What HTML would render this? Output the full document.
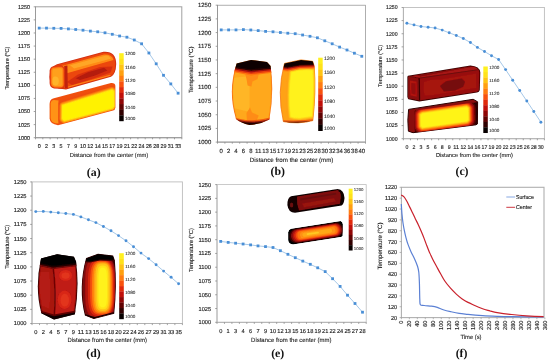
<!DOCTYPE html>
<html><head><meta charset="utf-8"><title>Figure</title>
<style>html,body{margin:0;padding:0;background:#fff}svg{display:block}</style></head>
<body>
<svg width="550" height="363" viewBox="0 0 550 363" text-rendering="geometricPrecision" font-family="'Liberation Sans', sans-serif">
<rect width="550" height="363" fill="#fff"/>
<defs><filter id="b4" x="-10%" y="-10%" width="120%" height="120%"><feGaussianBlur stdDeviation="0.4"/></filter><filter id="b5" x="-10%" y="-10%" width="120%" height="120%"><feGaussianBlur stdDeviation="0.55"/></filter><clipPath id="c1"><path d="M57 64.2L103.5 51.8Q116 50.8 116.2 64Q116 74 111 76.8L66 89.4Q50 89 49.5 77Q49.5 66.5 57 64.2Z"/></clipPath><clipPath id="c2"><path d="M53.5 66.2L60 65.4Q64.6 65.6 64.8 70L65 84Q64.8 88.6 60.5 88.8L54 88.4Q49.8 87.6 49.6 83L49.6 71Q49.8 66.8 53.5 66.2Z"/></clipPath><clipPath id="c3"><path d="M59.5 100.2L112 85.6Q115 85.4 115 88L115 107Q115 109.4 112.6 110.1L61 124Q58.2 123.6 58.2 120L58.2 103.5Q58.2 100.6 59.5 100.2Z"/></clipPath><clipPath id="c4"><path d="M236.6 63.4L251 59.9L267 62L270.6 66Q274.4 92 269.4 119.4Q260 124.4 249.4 125Q241 123.2 236 119Q227.4 91 236.6 63.4Z"/></clipPath><clipPath id="c5"><path d="M236.6 63.4L251 59.9L267 62L270.6 66Q274.4 92 269.4 119.4Q260 124.4 249.4 125Q241 123.2 236 119Q227.4 91 236.6 63.4Z"/></clipPath><clipPath id="c6"><path d="M288 67Q300 63.5 314.4 65.4Q316.2 92 312.8 120.6Q306 122.6 298 122.8Q291 122.8 287.2 121.6Q283.4 94 288 67Z"/></clipPath><clipPath id="c7"><path d="M284.5 63.4L301 59.9L312.7 61.3L314.2 66Q316.2 92 312.8 120.6Q306 122.6 298 122.8Q290 123 283.4 121.6Q276.6 92 284.5 63.4Z"/></clipPath><clipPath id="c8"><path d="M408 75.7L470.4 65.4Q479.8 66 480.3 72.4L479.8 90Q479.4 92 477 92.5L419.4 101.4L408.4 99.2Q407.4 98.4 407.4 96.6L407.4 77.4Q407.4 76 408 75.7Z"/></clipPath><clipPath id="c9"><path d="M414.6 110.6L477.4 101.9L477.4 124L476 124.8L414.6 132.4Z"/></clipPath><clipPath id="c10"><path d="M41 258.6L57.1 254.3L73.9 256.8L76 261.4Q79.6 286 74.9 314.2L54 319.5L41.4 313.2Q34.4 288 41 258.6Z"/></clipPath><clipPath id="c11"><path d="M41 258.6L57.1 254.3L73.9 256.8L76 261.4Q79.6 286 74.9 314.2L54 319.5L41.4 313.2Q34.4 288 41 258.6Z"/></clipPath><clipPath id="c12"><path d="M86.5 258.6L98 254.3L112.7 256L114.3 260.4Q116.6 286 113.7 313.2L93.8 318.4L85.4 315.2Q78.6 288 86.5 258.6Z"/></clipPath><clipPath id="c13"><path d="M86.5 258.6L98 254.3L112.7 256L114.3 260.4Q116.6 286 113.7 313.2L93.8 318.4L85.4 315.2Q78.6 288 86.5 258.6Z"/></clipPath><clipPath id="c14"><path d="M291 196.2L337.6 188.9Q344.2 189.6 344.5 198Q344 204 341.6 205.5L295 212.7Q288.2 212.6 287.4 205Q287.2 198 291 196.2Z"/></clipPath><clipPath id="c15"><path d="M291 228.7L340.6 220.9Q342.8 221.4 342.9 224.4L342.7 235.4Q342.4 236.8 341 237.1L293 244.5Q288.4 244 288.1 240L288.1 232.4Q288.4 229.4 291 228.7Z"/></clipPath></defs>
<rect x="35.50" y="6.80" width="146.30" height="130.90" fill="#fff" stroke="#a0a0a0" stroke-width="1.0"/>
<path d="M35.50 6.80V137.70H181.80" fill="none" stroke="#9a9a9a" stroke-width="1.0"/>
<text x="30.00" y="8.70" font-size="5.6" text-anchor="end" fill="#222" stroke="#222" stroke-width="0.13" textLength="12.00" lengthAdjust="spacingAndGlyphs">1250</text>
<text x="30.00" y="21.79" font-size="5.6" text-anchor="end" fill="#222" stroke="#222" stroke-width="0.13" textLength="12.00" lengthAdjust="spacingAndGlyphs">1225</text>
<text x="30.00" y="34.88" font-size="5.6" text-anchor="end" fill="#222" stroke="#222" stroke-width="0.13" textLength="12.00" lengthAdjust="spacingAndGlyphs">1200</text>
<text x="30.00" y="47.97" font-size="5.6" text-anchor="end" fill="#222" stroke="#222" stroke-width="0.13" textLength="12.00" lengthAdjust="spacingAndGlyphs">1175</text>
<text x="30.00" y="61.06" font-size="5.6" text-anchor="end" fill="#222" stroke="#222" stroke-width="0.13" textLength="12.00" lengthAdjust="spacingAndGlyphs">1150</text>
<text x="30.00" y="74.15" font-size="5.6" text-anchor="end" fill="#222" stroke="#222" stroke-width="0.13" textLength="12.00" lengthAdjust="spacingAndGlyphs">1125</text>
<text x="30.00" y="87.24" font-size="5.6" text-anchor="end" fill="#222" stroke="#222" stroke-width="0.13" textLength="12.00" lengthAdjust="spacingAndGlyphs">1100</text>
<text x="30.00" y="100.33" font-size="5.6" text-anchor="end" fill="#222" stroke="#222" stroke-width="0.13" textLength="12.00" lengthAdjust="spacingAndGlyphs">1075</text>
<text x="30.00" y="113.42" font-size="5.6" text-anchor="end" fill="#222" stroke="#222" stroke-width="0.13" textLength="12.00" lengthAdjust="spacingAndGlyphs">1050</text>
<text x="30.00" y="126.51" font-size="5.6" text-anchor="end" fill="#222" stroke="#222" stroke-width="0.13" textLength="12.00" lengthAdjust="spacingAndGlyphs">1025</text>
<text x="30.00" y="139.60" font-size="5.6" text-anchor="end" fill="#222" stroke="#222" stroke-width="0.13" textLength="12.00" lengthAdjust="spacingAndGlyphs">1000</text>
<path d="M33.70 6.80H35.50M33.70 19.89H35.50M33.70 32.98H35.50M33.70 46.07H35.50M33.70 59.16H35.50M33.70 72.25H35.50M33.70 85.34H35.50M33.70 98.43H35.50M33.70 111.52H35.50M33.70 124.61H35.50M33.70 137.70H35.50M35.50 137.70v1.6M42.81 137.70v1.6M50.13 137.70v1.6M57.45 137.70v1.6M64.76 137.70v1.6M72.08 137.70v1.6M79.39 137.70v1.6M86.71 137.70v1.6M94.02 137.70v1.6M101.34 137.70v1.6M108.65 137.70v1.6M115.97 137.70v1.6M123.28 137.70v1.6M130.59 137.70v1.6M137.91 137.70v1.6M145.23 137.70v1.6M152.54 137.70v1.6M159.86 137.70v1.6M167.17 137.70v1.6M174.49 137.70v1.6M181.80 137.70v1.6" stroke="#8c8c8c" stroke-width="0.8" fill="none"/>
<text x="39.16" y="147.90" font-size="5.6" text-anchor="middle" fill="#222" stroke="#222" stroke-width="0.13" textLength="3.00" lengthAdjust="spacingAndGlyphs">0</text>
<text x="46.47" y="147.90" font-size="5.6" text-anchor="middle" fill="#222" stroke="#222" stroke-width="0.13" textLength="3.00" lengthAdjust="spacingAndGlyphs">2</text>
<text x="53.79" y="147.90" font-size="5.6" text-anchor="middle" fill="#222" stroke="#222" stroke-width="0.13" textLength="3.00" lengthAdjust="spacingAndGlyphs">3</text>
<text x="61.10" y="147.90" font-size="5.6" text-anchor="middle" fill="#222" stroke="#222" stroke-width="0.13" textLength="3.00" lengthAdjust="spacingAndGlyphs">5</text>
<text x="68.42" y="147.90" font-size="5.6" text-anchor="middle" fill="#222" stroke="#222" stroke-width="0.13" textLength="3.00" lengthAdjust="spacingAndGlyphs">7</text>
<text x="75.73" y="147.90" font-size="5.6" text-anchor="middle" fill="#222" stroke="#222" stroke-width="0.13" textLength="3.00" lengthAdjust="spacingAndGlyphs">9</text>
<text x="83.05" y="147.90" font-size="5.6" text-anchor="middle" fill="#222" stroke="#222" stroke-width="0.13" textLength="6.00" lengthAdjust="spacingAndGlyphs">10</text>
<text x="90.36" y="147.90" font-size="5.6" text-anchor="middle" fill="#222" stroke="#222" stroke-width="0.13" textLength="6.00" lengthAdjust="spacingAndGlyphs">12</text>
<text x="97.68" y="147.90" font-size="5.6" text-anchor="middle" fill="#222" stroke="#222" stroke-width="0.13" textLength="6.00" lengthAdjust="spacingAndGlyphs">14</text>
<text x="104.99" y="147.90" font-size="5.6" text-anchor="middle" fill="#222" stroke="#222" stroke-width="0.13" textLength="6.00" lengthAdjust="spacingAndGlyphs">15</text>
<text x="112.31" y="147.90" font-size="5.6" text-anchor="middle" fill="#222" stroke="#222" stroke-width="0.13" textLength="6.00" lengthAdjust="spacingAndGlyphs">17</text>
<text x="119.62" y="147.90" font-size="5.6" text-anchor="middle" fill="#222" stroke="#222" stroke-width="0.13" textLength="6.00" lengthAdjust="spacingAndGlyphs">19</text>
<text x="126.94" y="147.90" font-size="5.6" text-anchor="middle" fill="#222" stroke="#222" stroke-width="0.13" textLength="6.00" lengthAdjust="spacingAndGlyphs">21</text>
<text x="134.25" y="147.90" font-size="5.6" text-anchor="middle" fill="#222" stroke="#222" stroke-width="0.13" textLength="6.00" lengthAdjust="spacingAndGlyphs">22</text>
<text x="141.57" y="147.90" font-size="5.6" text-anchor="middle" fill="#222" stroke="#222" stroke-width="0.13" textLength="6.00" lengthAdjust="spacingAndGlyphs">24</text>
<text x="148.88" y="147.90" font-size="5.6" text-anchor="middle" fill="#222" stroke="#222" stroke-width="0.13" textLength="6.00" lengthAdjust="spacingAndGlyphs">26</text>
<text x="156.20" y="147.90" font-size="5.6" text-anchor="middle" fill="#222" stroke="#222" stroke-width="0.13" textLength="6.00" lengthAdjust="spacingAndGlyphs">28</text>
<text x="163.51" y="147.90" font-size="5.6" text-anchor="middle" fill="#222" stroke="#222" stroke-width="0.13" textLength="6.00" lengthAdjust="spacingAndGlyphs">29</text>
<text x="170.83" y="147.90" font-size="5.6" text-anchor="middle" fill="#222" stroke="#222" stroke-width="0.13" textLength="6.00" lengthAdjust="spacingAndGlyphs">31</text>
<text x="178.14" y="147.90" font-size="5.6" text-anchor="middle" fill="#222" stroke="#222" stroke-width="0.13" textLength="6.00" lengthAdjust="spacingAndGlyphs">33</text>
<polyline points="39.2,28.1 46.5,28.1 53.8,28.3 61.1,28.4 68.4,28.9 75.7,29.5 83.0,30.2 90.4,31.1 97.7,31.8 105.0,32.8 112.3,34.3 119.6,36.0 126.9,37.2 134.3,40.0 141.6,43.8 148.9,53.0 156.2,63.8 163.5,75.3 170.8,83.9 178.1,93.2" fill="none" stroke="#5b9bd5" stroke-width="0.55" stroke-linejoin="round"/>
<g fill="#4a8fd6"><rect x="37.8" y="26.7" width="2.8" height="2.8"/><rect x="45.1" y="26.7" width="2.8" height="2.8"/><rect x="52.4" y="26.9" width="2.8" height="2.8"/><rect x="59.7" y="27.0" width="2.8" height="2.8"/><rect x="67.0" y="27.5" width="2.8" height="2.8"/><rect x="74.3" y="28.1" width="2.8" height="2.8"/><rect x="81.6" y="28.8" width="2.8" height="2.8"/><rect x="89.0" y="29.7" width="2.8" height="2.8"/><rect x="96.3" y="30.4" width="2.8" height="2.8"/><rect x="103.6" y="31.4" width="2.8" height="2.8"/><rect x="110.9" y="32.9" width="2.8" height="2.8"/><rect x="118.2" y="34.6" width="2.8" height="2.8"/><rect x="125.5" y="35.8" width="2.8" height="2.8"/><rect x="132.9" y="38.6" width="2.8" height="2.8"/><rect x="140.2" y="42.4" width="2.8" height="2.8"/><rect x="147.5" y="51.6" width="2.8" height="2.8"/><rect x="154.8" y="62.4" width="2.8" height="2.8"/><rect x="162.1" y="73.9" width="2.8" height="2.8"/><rect x="169.4" y="82.5" width="2.8" height="2.8"/><rect x="176.7" y="91.8" width="2.8" height="2.8"/></g>
<text x="9.08" y="68.10" font-size="5.6" text-anchor="middle" fill="#222" stroke="#222" stroke-width="0.1" textLength="43.00" lengthAdjust="spacingAndGlyphs" transform="rotate(-90 9.08 68.10)">Temperature (°C)</text>
<text x="109.00" y="156.70" font-size="5.8" text-anchor="middle" fill="#222" stroke="#222" stroke-width="0.1" textLength="78.60" lengthAdjust="spacingAndGlyphs">Distance from the center (mm)</text>
<text x="93.70" y="175.80" font-size="11.8" text-anchor="middle" fill="#111" font-family="'Liberation Serif', serif" font-weight="bold">(a)</text>
<g><g clip-path="url(#c1)"><g filter="url(#b5)"><path d="M57 64.2L103.5 51.8Q116 50.8 116.2 64Q116 74 111 76.8L66 89.4Q50 89 49.5 77Q49.5 66.5 57 64.2Z" fill="#ec460f"/><path d="M60 66.5L104 54.5Q112 54 113.5 60L66 73.4Z" fill="#ff8a14"/><path d="M70 65.2L106 55.6Q110 56 110.8 58.8L74 68.4Z" fill="#ffa626"/><path d="M67 82L78 74.5L100 67L112.6 66.5L110.6 72.4L92 79L72 85Z" fill="#d62e10"/><path d="M75.6 78.2L88 72.2L104 67.8L107.4 70.4L95 75.6L80 80Z" fill="#b41a10"/><path d="M68 86.4L110 74.8L112 77L68 89.6Z" fill="#ff8414"/><path d="M64.2 66L67.4 65.4L67.8 88.8L65 89Z" fill="#c02010"/><path d="M57 64.2L103.5 51.8Q116 50.8 116.2 64Q116 74 111 76.8L66 89.4Q50 89 49.5 77Q49.5 66.5 57 64.2Z" fill="none" stroke="#e03a10" stroke-width="2.2" stroke-linejoin="round"/><path d="M57 64.2L103.5 51.8Q116 50.8 116.2 64Q116 74 111 76.8L66 89.4Q50 89 49.5 77Q49.5 66.5 57 64.2Z" fill="none" stroke="#c82610" stroke-width="0.9" stroke-linejoin="round"/></g></g><g clip-path="url(#c2)"><g filter="url(#b4)"><path d="M53.5 66.2L60 65.4Q64.6 65.6 64.8 70L65 84Q64.8 88.6 60.5 88.8L54 88.4Q49.8 87.6 49.6 83L49.6 71Q49.8 66.8 53.5 66.2Z" fill="#ffa01c"/><ellipse cx="55.4" cy="81" rx="3.4" ry="4.6" fill="#ffb42a"/><path d="M53.5 66.2L60 65.4Q64.6 65.6 64.8 70L65 84Q64.8 88.6 60.5 88.8L54 88.4Q49.8 87.6 49.6 83L49.6 71Q49.8 66.8 53.5 66.2Z" fill="none" stroke="#ff8614" stroke-width="5.4" stroke-linejoin="round"/><path d="M53.5 66.2L60 65.4Q64.6 65.6 64.8 70L65 84Q64.8 88.6 60.5 88.8L54 88.4Q49.8 87.6 49.6 83L49.6 71Q49.8 66.8 53.5 66.2Z" fill="none" stroke="#f04e0f" stroke-width="3.0" stroke-linejoin="round"/><path d="M53.5 66.2L60 65.4Q64.6 65.6 64.8 70L65 84Q64.8 88.6 60.5 88.8L54 88.4Q49.8 87.6 49.6 83L49.6 71Q49.8 66.8 53.5 66.2Z" fill="none" stroke="#d42c10" stroke-width="1.3" stroke-linejoin="round"/></g></g><g filter="url(#b4)"><path d="M53 98.6L111 82.9Q115.3 82.6 115.4 86L115.4 107.5Q115.2 110 113 110.6L58 125.2Q50 124 49.6 118.5L49.6 104Q49.8 99.6 53 98.6Z" fill="#f0500f"/><path d="M50.6 103.6Q51 100.4 54 100L58.6 100.6L58.4 123.4L55.5 123.2Q50.8 122 50.6 118Z" fill="#ff9216"/></g><g clip-path="url(#c3)"><g filter="url(#b5)"><path d="M59.5 100.2L112 85.6Q115 85.4 115 88L115 107Q115 109.4 112.6 110.1L61 124Q58.2 123.6 58.2 120L58.2 103.5Q58.2 100.6 59.5 100.2Z" fill="#ee4e0e"/><path d="M63 105.6L112 90.4L113.2 91.4L113.4 106.2L112.2 107.8L64.4 120.2L62.8 118.8Z" fill="#f8700f" stroke="#f8700f" stroke-width="7.0" stroke-linejoin="round" stroke-linecap="round"/><path d="M63 105.6L112 90.4L113.2 91.4L113.4 106.2L112.2 107.8L64.4 120.2L62.8 118.8Z" fill="#ff9412" stroke="#ff9412" stroke-width="5.2" stroke-linejoin="round" stroke-linecap="round"/><path d="M63 105.6L112 90.4L113.2 91.4L113.4 106.2L112.2 107.8L64.4 120.2L62.8 118.8Z" fill="#ffb812" stroke="#ffb812" stroke-width="3.6" stroke-linejoin="round" stroke-linecap="round"/><path d="M63 105.6L112 90.4L113.2 91.4L113.4 106.2L112.2 107.8L64.4 120.2L62.8 118.8Z" fill="#ffd810" stroke="#ffd810" stroke-width="2.2" stroke-linejoin="round" stroke-linecap="round"/><path d="M63 105.6L112 90.4L113.2 91.4L113.4 106.2L112.2 107.8L64.4 120.2L62.8 118.8Z" fill="#ffea0c" stroke="#ffea0c" stroke-width="1.0" stroke-linejoin="round" stroke-linecap="round"/><path d="M63 105.6L112 90.4L113.2 91.4L113.4 106.2L112.2 107.8L64.4 120.2L62.8 118.8Z" fill="#fff200"/></g></g></g>
<rect x="119.20" y="53.20" width="4.50" height="5.85" fill="#fff020"/>
<rect x="119.20" y="58.85" width="4.50" height="5.85" fill="#ffe21a"/>
<rect x="119.20" y="64.50" width="4.50" height="5.85" fill="#ffc414"/>
<rect x="119.20" y="70.15" width="4.50" height="5.85" fill="#ffa010"/>
<rect x="119.20" y="75.80" width="4.50" height="5.85" fill="#ff7c10"/>
<rect x="119.20" y="81.45" width="4.50" height="5.85" fill="#f8520e"/>
<rect x="119.20" y="87.10" width="4.50" height="5.85" fill="#e02a0c"/>
<rect x="119.20" y="92.75" width="4.50" height="5.85" fill="#c0100a"/>
<rect x="119.20" y="98.40" width="4.50" height="5.85" fill="#900606"/>
<rect x="119.20" y="104.05" width="4.50" height="5.85" fill="#600202"/>
<rect x="119.20" y="109.70" width="4.50" height="5.85" fill="#300000"/>
<rect x="119.20" y="115.35" width="4.50" height="5.85" fill="#080000"/>
<text x="124.90" y="55.46" font-size="4.6" text-anchor="start" fill="#222" stroke="#222" stroke-width="0.05" textLength="10.50" lengthAdjust="spacingAndGlyphs">1200</text>
<text x="124.90" y="68.76" font-size="4.6" text-anchor="start" fill="#222" stroke="#222" stroke-width="0.05" textLength="10.50" lengthAdjust="spacingAndGlyphs">1160</text>
<text x="124.90" y="82.06" font-size="4.6" text-anchor="start" fill="#222" stroke="#222" stroke-width="0.05" textLength="10.50" lengthAdjust="spacingAndGlyphs">1120</text>
<text x="124.90" y="95.36" font-size="4.6" text-anchor="start" fill="#222" stroke="#222" stroke-width="0.05" textLength="10.50" lengthAdjust="spacingAndGlyphs">1080</text>
<text x="124.90" y="108.66" font-size="4.6" text-anchor="start" fill="#222" stroke="#222" stroke-width="0.05" textLength="10.50" lengthAdjust="spacingAndGlyphs">1040</text>
<text x="124.90" y="119.96" font-size="4.6" text-anchor="start" fill="#222" stroke="#222" stroke-width="0.05" textLength="10.50" lengthAdjust="spacingAndGlyphs">1000</text>
<rect x="217.50" y="5.20" width="148.00" height="136.90" fill="#fff" stroke="#8c8c8c" stroke-width="0.7"/>
<path d="M217.50 5.20V142.10H365.50" fill="none" stroke="#8c8c8c" stroke-width="0.7"/>
<text x="211.20" y="7.24" font-size="6.0" text-anchor="end" fill="#222" stroke="#222" stroke-width="0.13" textLength="13.20" lengthAdjust="spacingAndGlyphs">1250</text>
<text x="211.20" y="20.93" font-size="6.0" text-anchor="end" fill="#222" stroke="#222" stroke-width="0.13" textLength="13.20" lengthAdjust="spacingAndGlyphs">1225</text>
<text x="211.20" y="34.62" font-size="6.0" text-anchor="end" fill="#222" stroke="#222" stroke-width="0.13" textLength="13.20" lengthAdjust="spacingAndGlyphs">1200</text>
<text x="211.20" y="48.31" font-size="6.0" text-anchor="end" fill="#222" stroke="#222" stroke-width="0.13" textLength="13.20" lengthAdjust="spacingAndGlyphs">1175</text>
<text x="211.20" y="62.00" font-size="6.0" text-anchor="end" fill="#222" stroke="#222" stroke-width="0.13" textLength="13.20" lengthAdjust="spacingAndGlyphs">1150</text>
<text x="211.20" y="75.69" font-size="6.0" text-anchor="end" fill="#222" stroke="#222" stroke-width="0.13" textLength="13.20" lengthAdjust="spacingAndGlyphs">1125</text>
<text x="211.20" y="89.38" font-size="6.0" text-anchor="end" fill="#222" stroke="#222" stroke-width="0.13" textLength="13.20" lengthAdjust="spacingAndGlyphs">1100</text>
<text x="211.20" y="103.07" font-size="6.0" text-anchor="end" fill="#222" stroke="#222" stroke-width="0.13" textLength="13.20" lengthAdjust="spacingAndGlyphs">1075</text>
<text x="211.20" y="116.76" font-size="6.0" text-anchor="end" fill="#222" stroke="#222" stroke-width="0.13" textLength="13.20" lengthAdjust="spacingAndGlyphs">1050</text>
<text x="211.20" y="130.45" font-size="6.0" text-anchor="end" fill="#222" stroke="#222" stroke-width="0.13" textLength="13.20" lengthAdjust="spacingAndGlyphs">1025</text>
<text x="211.20" y="144.14" font-size="6.0" text-anchor="end" fill="#222" stroke="#222" stroke-width="0.13" textLength="13.20" lengthAdjust="spacingAndGlyphs">1000</text>
<path d="M215.70 5.20H217.50M215.70 18.89H217.50M215.70 32.58H217.50M215.70 46.27H217.50M215.70 59.96H217.50M215.70 73.65H217.50M215.70 87.34H217.50M215.70 101.03H217.50M215.70 114.72H217.50M215.70 128.41H217.50M215.70 142.10H217.50M217.50 142.10v1.6M224.90 142.10v1.6M232.30 142.10v1.6M239.70 142.10v1.6M247.10 142.10v1.6M254.50 142.10v1.6M261.90 142.10v1.6M269.30 142.10v1.6M276.70 142.10v1.6M284.10 142.10v1.6M291.50 142.10v1.6M298.90 142.10v1.6M306.30 142.10v1.6M313.70 142.10v1.6M321.10 142.10v1.6M328.50 142.10v1.6M335.90 142.10v1.6M343.30 142.10v1.6M350.70 142.10v1.6M358.10 142.10v1.6M365.50 142.10v1.6" stroke="#8c8c8c" stroke-width="0.8" fill="none"/>
<text x="221.20" y="152.64" font-size="6.0" text-anchor="middle" fill="#222" stroke="#222" stroke-width="0.13" textLength="3.30" lengthAdjust="spacingAndGlyphs">0</text>
<text x="228.60" y="152.64" font-size="6.0" text-anchor="middle" fill="#222" stroke="#222" stroke-width="0.13" textLength="3.30" lengthAdjust="spacingAndGlyphs">2</text>
<text x="236.00" y="152.64" font-size="6.0" text-anchor="middle" fill="#222" stroke="#222" stroke-width="0.13" textLength="3.30" lengthAdjust="spacingAndGlyphs">4</text>
<text x="243.40" y="152.64" font-size="6.0" text-anchor="middle" fill="#222" stroke="#222" stroke-width="0.13" textLength="3.30" lengthAdjust="spacingAndGlyphs">6</text>
<text x="250.80" y="152.64" font-size="6.0" text-anchor="middle" fill="#222" stroke="#222" stroke-width="0.13" textLength="3.30" lengthAdjust="spacingAndGlyphs">8</text>
<text x="258.20" y="152.64" font-size="6.0" text-anchor="middle" fill="#222" stroke="#222" stroke-width="0.13" textLength="6.60" lengthAdjust="spacingAndGlyphs">11</text>
<text x="265.60" y="152.64" font-size="6.0" text-anchor="middle" fill="#222" stroke="#222" stroke-width="0.13" textLength="6.60" lengthAdjust="spacingAndGlyphs">13</text>
<text x="273.00" y="152.64" font-size="6.0" text-anchor="middle" fill="#222" stroke="#222" stroke-width="0.13" textLength="6.60" lengthAdjust="spacingAndGlyphs">15</text>
<text x="280.40" y="152.64" font-size="6.0" text-anchor="middle" fill="#222" stroke="#222" stroke-width="0.13" textLength="6.60" lengthAdjust="spacingAndGlyphs">17</text>
<text x="287.80" y="152.64" font-size="6.0" text-anchor="middle" fill="#222" stroke="#222" stroke-width="0.13" textLength="6.60" lengthAdjust="spacingAndGlyphs">19</text>
<text x="295.20" y="152.64" font-size="6.0" text-anchor="middle" fill="#222" stroke="#222" stroke-width="0.13" textLength="6.60" lengthAdjust="spacingAndGlyphs">21</text>
<text x="302.60" y="152.64" font-size="6.0" text-anchor="middle" fill="#222" stroke="#222" stroke-width="0.13" textLength="6.60" lengthAdjust="spacingAndGlyphs">23</text>
<text x="310.00" y="152.64" font-size="6.0" text-anchor="middle" fill="#222" stroke="#222" stroke-width="0.13" textLength="6.60" lengthAdjust="spacingAndGlyphs">25</text>
<text x="317.40" y="152.64" font-size="6.0" text-anchor="middle" fill="#222" stroke="#222" stroke-width="0.13" textLength="6.60" lengthAdjust="spacingAndGlyphs">28</text>
<text x="324.80" y="152.64" font-size="6.0" text-anchor="middle" fill="#222" stroke="#222" stroke-width="0.13" textLength="6.60" lengthAdjust="spacingAndGlyphs">30</text>
<text x="332.20" y="152.64" font-size="6.0" text-anchor="middle" fill="#222" stroke="#222" stroke-width="0.13" textLength="6.60" lengthAdjust="spacingAndGlyphs">32</text>
<text x="339.60" y="152.64" font-size="6.0" text-anchor="middle" fill="#222" stroke="#222" stroke-width="0.13" textLength="6.60" lengthAdjust="spacingAndGlyphs">34</text>
<text x="347.00" y="152.64" font-size="6.0" text-anchor="middle" fill="#222" stroke="#222" stroke-width="0.13" textLength="6.60" lengthAdjust="spacingAndGlyphs">36</text>
<text x="354.40" y="152.64" font-size="6.0" text-anchor="middle" fill="#222" stroke="#222" stroke-width="0.13" textLength="6.60" lengthAdjust="spacingAndGlyphs">38</text>
<text x="361.80" y="152.64" font-size="6.0" text-anchor="middle" fill="#222" stroke="#222" stroke-width="0.13" textLength="6.60" lengthAdjust="spacingAndGlyphs">40</text>
<polyline points="221.2,29.9 228.6,29.9 236.0,29.9 243.4,29.6 250.8,30.0 258.2,30.6 265.6,31.4 273.0,31.8 280.4,32.5 287.8,33.2 295.2,33.7 302.6,35.0 310.0,36.3 317.4,37.8 324.8,40.8 332.2,43.8 339.6,47.1 347.0,50.0 354.4,53.2 361.8,56.3" fill="none" stroke="#5b9bd5" stroke-width="0.55" stroke-linejoin="round"/>
<g fill="#4a8fd6"><rect x="219.8" y="28.5" width="2.8" height="2.8"/><rect x="227.2" y="28.5" width="2.8" height="2.8"/><rect x="234.6" y="28.5" width="2.8" height="2.8"/><rect x="242.0" y="28.2" width="2.8" height="2.8"/><rect x="249.4" y="28.6" width="2.8" height="2.8"/><rect x="256.8" y="29.2" width="2.8" height="2.8"/><rect x="264.2" y="30.0" width="2.8" height="2.8"/><rect x="271.6" y="30.4" width="2.8" height="2.8"/><rect x="279.0" y="31.1" width="2.8" height="2.8"/><rect x="286.4" y="31.8" width="2.8" height="2.8"/><rect x="293.8" y="32.3" width="2.8" height="2.8"/><rect x="301.2" y="33.6" width="2.8" height="2.8"/><rect x="308.6" y="34.9" width="2.8" height="2.8"/><rect x="316.0" y="36.4" width="2.8" height="2.8"/><rect x="323.4" y="39.4" width="2.8" height="2.8"/><rect x="330.8" y="42.4" width="2.8" height="2.8"/><rect x="338.2" y="45.7" width="2.8" height="2.8"/><rect x="345.6" y="48.6" width="2.8" height="2.8"/><rect x="353.0" y="51.8" width="2.8" height="2.8"/><rect x="360.4" y="54.9" width="2.8" height="2.8"/></g>
<text x="193.40" y="69.75" font-size="6.0" text-anchor="middle" fill="#222" stroke="#222" stroke-width="0.1" textLength="46.30" lengthAdjust="spacingAndGlyphs" transform="rotate(-90 193.40 69.75)">Temperature (°C)</text>
<text x="291.55" y="162.34" font-size="6.2" text-anchor="middle" fill="#222" stroke="#222" stroke-width="0.1" textLength="83.70" lengthAdjust="spacingAndGlyphs">Distance from the center (mm)</text>
<text x="277.70" y="175.40" font-size="11.8" text-anchor="middle" fill="#111" font-family="'Liberation Serif', serif" font-weight="bold">(b)</text>
<g><g clip-path="url(#c4)"><g filter="url(#b5)"><path d="M236.6 63.4L251 59.9L267 62L270.6 66Q274.4 92 269.4 119.4Q260 124.4 249.4 125Q241 123.2 236 119Q227.4 91 236.6 63.4Z" fill="#ffa81a"/><path d="M232 78Q230.6 92 233.5 108L249.5 112L249.5 76Z" fill="#ffb628"/><path d="M245 73L259 73L257.5 79L252.4 81.6L251.4 86.4L247.6 85.4L246.6 79.6Z" fill="#ff8c14"/><path d="M246.5 113L250 107.6L252 112.4L258.6 115.4L256.6 121L247 121Z" fill="#ff8c14"/><path d="M236.6 63.4L251 59.9L267 62L270.6 66Q274.4 92 269.4 119.4Q260 124.4 249.4 125Q241 123.2 236 119Q227.4 91 236.6 63.4Z" fill="none" stroke="#ff9416" stroke-width="2.4" stroke-linejoin="round"/><path d="M236.6 63.4L251 59.9L267 62L270.6 66Q274.4 92 269.4 119.4Q260 124.4 249.4 125Q241 123.2 236 119Q227.4 91 236.6 63.4Z" fill="none" stroke="#f4680f" stroke-width="0.9" stroke-linejoin="round"/></g></g><g clip-path="url(#c5)"><g filter="url(#b5)"><path d="M230 58L275 58L275 72.6L251 75.4L230 71.6Z" fill="#ff7410"/><path d="M230 58L275 58L275 71.2L251 74L230 70.2Z" fill="#e83c0c"/><path d="M230 58L275 58L275 69.8L251 72.4L230 68.8Z" fill="#a01008"/><path d="M230 58L275 58L275 68.4L251 70.8L230 67.4Z" fill="#2c0404"/><path d="M230 58L275 58L275 67L251 69.2L230 66Z" fill="#080000"/><path d="M230 115.4Q249 124.6 275 116L275 130L230 130Z" fill="#f05a10"/><path d="M230 116.8Q249 126 275 117.6L275 130L230 130Z" fill="#8c1408"/><path d="M230 118Q249 127.2 275 119L275 130L230 130Z" fill="#200404"/></g></g><g filter="url(#b4)"><path d="M284.5 63.4L301 59.9L312.7 61.3L314.2 66Q316.2 92 312.8 120.6Q306 122.6 298 122.8Q290 123 283.4 121.6Q276.6 92 284.5 63.4Z" fill="#ffa216"/><path d="M284.5 63.4L301 59.9L312.7 61.3L314.2 66Q316.2 92 312.8 120.6Q306 122.6 298 122.8Q290 123 283.4 121.6Q276.6 92 284.5 63.4Z" fill="none" stroke="#f4760f" stroke-width="0.8"/></g><g clip-path="url(#c6)"><g filter="url(#b5)"><path d="M288 67Q300 63.5 314.4 65.4Q316.2 92 312.8 120.6Q306 122.6 298 122.8Q291 122.8 287.2 121.6Q283.4 94 288 67Z" fill="#ffa014"/><path d="M291.4 72.4Q301 69.4 312.4 70.6Q314 92 311.6 116L300 117.8Q293.6 118 290.8 116.6Q288.2 95 291.4 72.4Z" fill="#ffb414" stroke="#ffb414" stroke-width="4.4" stroke-linejoin="round" stroke-linecap="round"/><path d="M291.4 72.4Q301 69.4 312.4 70.6Q314 92 311.6 116L300 117.8Q293.6 118 290.8 116.6Q288.2 95 291.4 72.4Z" fill="#ffcc16" stroke="#ffcc16" stroke-width="2.8" stroke-linejoin="round" stroke-linecap="round"/><path d="M291.4 72.4Q301 69.4 312.4 70.6Q314 92 311.6 116L300 117.8Q293.6 118 290.8 116.6Q288.2 95 291.4 72.4Z" fill="#ffe218" stroke="#ffe218" stroke-width="1.4" stroke-linejoin="round" stroke-linecap="round"/><path d="M291.4 72.4Q301 69.4 312.4 70.6Q314 92 311.6 116L300 117.8Q293.6 118 290.8 116.6Q288.2 95 291.4 72.4Z" fill="#fff21c"/></g></g><g clip-path="url(#c7)"><g filter="url(#b5)"><path d="M276 56L318 56L318 68.6L300 69.2L287.5 71.8L276 70.4Z" fill="#ff8a12"/><path d="M276 56L318 56L318 67.4L300 68L287.5 70.4L276 69.2Z" fill="#ec400c"/><path d="M276 56L318 56L318 66.2L300 66.8L287.5 69L276 68Z" fill="#a01008"/><path d="M276 56L318 56L318 65L300 65.6L287.5 67.8L276 66.8Z" fill="#2c0404"/><path d="M276 56L318 56L318 63.8L300 64.4L287.5 66.6L276 65.6Z" fill="#080000"/><path d="M276 119.6Q298 121.6 318 118.6L318 130L276 130Z" fill="#f0600e"/><path d="M276 121Q298 123 318 120L318 130L276 130Z" fill="#5a0c06"/></g></g></g>
<rect x="318.20" y="57.70" width="4.50" height="6.29" fill="#fff020"/>
<rect x="318.20" y="63.79" width="4.50" height="6.29" fill="#ffe21a"/>
<rect x="318.20" y="69.88" width="4.50" height="6.29" fill="#ffc414"/>
<rect x="318.20" y="75.98" width="4.50" height="6.29" fill="#ffa010"/>
<rect x="318.20" y="82.07" width="4.50" height="6.29" fill="#ff7c10"/>
<rect x="318.20" y="88.16" width="4.50" height="6.29" fill="#f8520e"/>
<rect x="318.20" y="94.25" width="4.50" height="6.29" fill="#e02a0c"/>
<rect x="318.20" y="100.34" width="4.50" height="6.29" fill="#c0100a"/>
<rect x="318.20" y="106.43" width="4.50" height="6.29" fill="#900606"/>
<rect x="318.20" y="112.53" width="4.50" height="6.29" fill="#600202"/>
<rect x="318.20" y="118.62" width="4.50" height="6.29" fill="#300000"/>
<rect x="318.20" y="124.71" width="4.50" height="6.29" fill="#080000"/>
<text x="323.90" y="59.96" font-size="4.9" text-anchor="start" fill="#222" stroke="#222" stroke-width="0.05" textLength="11.30" lengthAdjust="spacingAndGlyphs">1200</text>
<text x="323.90" y="74.46" font-size="4.9" text-anchor="start" fill="#222" stroke="#222" stroke-width="0.05" textLength="11.30" lengthAdjust="spacingAndGlyphs">1160</text>
<text x="323.90" y="88.86" font-size="4.9" text-anchor="start" fill="#222" stroke="#222" stroke-width="0.05" textLength="11.30" lengthAdjust="spacingAndGlyphs">1120</text>
<text x="323.90" y="103.26" font-size="4.9" text-anchor="start" fill="#222" stroke="#222" stroke-width="0.05" textLength="11.30" lengthAdjust="spacingAndGlyphs">1080</text>
<text x="323.90" y="117.76" font-size="4.9" text-anchor="start" fill="#222" stroke="#222" stroke-width="0.05" textLength="11.30" lengthAdjust="spacingAndGlyphs">1040</text>
<text x="323.90" y="129.76" font-size="4.9" text-anchor="start" fill="#222" stroke="#222" stroke-width="0.05" textLength="11.30" lengthAdjust="spacingAndGlyphs">1000</text>
<rect x="403.40" y="7.50" width="141.00" height="131.20" fill="#fff" stroke="#bdbdbd" stroke-width="0.9"/>
<path d="M403.40 7.50V138.70H544.40" fill="none" stroke="#b0b0b0" stroke-width="0.9"/>
<text x="397.60" y="9.37" font-size="5.5" text-anchor="end" fill="#222" stroke="#222" stroke-width="0.13" textLength="11.60" lengthAdjust="spacingAndGlyphs">1250</text>
<text x="397.60" y="22.49" font-size="5.5" text-anchor="end" fill="#222" stroke="#222" stroke-width="0.13" textLength="11.60" lengthAdjust="spacingAndGlyphs">1225</text>
<text x="397.60" y="35.61" font-size="5.5" text-anchor="end" fill="#222" stroke="#222" stroke-width="0.13" textLength="11.60" lengthAdjust="spacingAndGlyphs">1200</text>
<text x="397.60" y="48.73" font-size="5.5" text-anchor="end" fill="#222" stroke="#222" stroke-width="0.13" textLength="11.60" lengthAdjust="spacingAndGlyphs">1175</text>
<text x="397.60" y="61.85" font-size="5.5" text-anchor="end" fill="#222" stroke="#222" stroke-width="0.13" textLength="11.60" lengthAdjust="spacingAndGlyphs">1150</text>
<text x="397.60" y="74.97" font-size="5.5" text-anchor="end" fill="#222" stroke="#222" stroke-width="0.13" textLength="11.60" lengthAdjust="spacingAndGlyphs">1125</text>
<text x="397.60" y="88.09" font-size="5.5" text-anchor="end" fill="#222" stroke="#222" stroke-width="0.13" textLength="11.60" lengthAdjust="spacingAndGlyphs">1100</text>
<text x="397.60" y="101.21" font-size="5.5" text-anchor="end" fill="#222" stroke="#222" stroke-width="0.13" textLength="11.60" lengthAdjust="spacingAndGlyphs">1075</text>
<text x="397.60" y="114.33" font-size="5.5" text-anchor="end" fill="#222" stroke="#222" stroke-width="0.13" textLength="11.60" lengthAdjust="spacingAndGlyphs">1050</text>
<text x="397.60" y="127.45" font-size="5.5" text-anchor="end" fill="#222" stroke="#222" stroke-width="0.13" textLength="11.60" lengthAdjust="spacingAndGlyphs">1025</text>
<text x="397.60" y="140.57" font-size="5.5" text-anchor="end" fill="#222" stroke="#222" stroke-width="0.13" textLength="11.60" lengthAdjust="spacingAndGlyphs">1000</text>
<path d="M401.60 7.50H403.40M401.60 20.62H403.40M401.60 33.74H403.40M401.60 46.86H403.40M401.60 59.98H403.40M401.60 73.10H403.40M401.60 86.22H403.40M401.60 99.34H403.40M401.60 112.46H403.40M401.60 125.58H403.40M401.60 138.70H403.40M403.40 138.70v1.6M410.45 138.70v1.6M417.50 138.70v1.6M424.55 138.70v1.6M431.60 138.70v1.6M438.65 138.70v1.6M445.70 138.70v1.6M452.75 138.70v1.6M459.80 138.70v1.6M466.85 138.70v1.6M473.90 138.70v1.6M480.95 138.70v1.6M488.00 138.70v1.6M495.05 138.70v1.6M502.10 138.70v1.6M509.15 138.70v1.6M516.20 138.70v1.6M523.25 138.70v1.6M530.30 138.70v1.6M537.35 138.70v1.6M544.40 138.70v1.6" stroke="#8c8c8c" stroke-width="0.8" fill="none"/>
<text x="406.92" y="148.67" font-size="5.5" text-anchor="middle" fill="#222" stroke="#222" stroke-width="0.13" textLength="2.90" lengthAdjust="spacingAndGlyphs">0</text>
<text x="413.97" y="148.67" font-size="5.5" text-anchor="middle" fill="#222" stroke="#222" stroke-width="0.13" textLength="2.90" lengthAdjust="spacingAndGlyphs">2</text>
<text x="421.02" y="148.67" font-size="5.5" text-anchor="middle" fill="#222" stroke="#222" stroke-width="0.13" textLength="2.90" lengthAdjust="spacingAndGlyphs">3</text>
<text x="428.07" y="148.67" font-size="5.5" text-anchor="middle" fill="#222" stroke="#222" stroke-width="0.13" textLength="2.90" lengthAdjust="spacingAndGlyphs">5</text>
<text x="435.12" y="148.67" font-size="5.5" text-anchor="middle" fill="#222" stroke="#222" stroke-width="0.13" textLength="2.90" lengthAdjust="spacingAndGlyphs">6</text>
<text x="442.17" y="148.67" font-size="5.5" text-anchor="middle" fill="#222" stroke="#222" stroke-width="0.13" textLength="2.90" lengthAdjust="spacingAndGlyphs">8</text>
<text x="449.22" y="148.67" font-size="5.5" text-anchor="middle" fill="#222" stroke="#222" stroke-width="0.13" textLength="2.90" lengthAdjust="spacingAndGlyphs">9</text>
<text x="456.27" y="148.67" font-size="5.5" text-anchor="middle" fill="#222" stroke="#222" stroke-width="0.13" textLength="5.80" lengthAdjust="spacingAndGlyphs">11</text>
<text x="463.32" y="148.67" font-size="5.5" text-anchor="middle" fill="#222" stroke="#222" stroke-width="0.13" textLength="5.80" lengthAdjust="spacingAndGlyphs">12</text>
<text x="470.38" y="148.67" font-size="5.5" text-anchor="middle" fill="#222" stroke="#222" stroke-width="0.13" textLength="5.80" lengthAdjust="spacingAndGlyphs">14</text>
<text x="477.42" y="148.67" font-size="5.5" text-anchor="middle" fill="#222" stroke="#222" stroke-width="0.13" textLength="5.80" lengthAdjust="spacingAndGlyphs">16</text>
<text x="484.47" y="148.67" font-size="5.5" text-anchor="middle" fill="#222" stroke="#222" stroke-width="0.13" textLength="5.80" lengthAdjust="spacingAndGlyphs">17</text>
<text x="491.52" y="148.67" font-size="5.5" text-anchor="middle" fill="#222" stroke="#222" stroke-width="0.13" textLength="5.80" lengthAdjust="spacingAndGlyphs">19</text>
<text x="498.57" y="148.67" font-size="5.5" text-anchor="middle" fill="#222" stroke="#222" stroke-width="0.13" textLength="5.80" lengthAdjust="spacingAndGlyphs">20</text>
<text x="505.62" y="148.67" font-size="5.5" text-anchor="middle" fill="#222" stroke="#222" stroke-width="0.13" textLength="5.80" lengthAdjust="spacingAndGlyphs">22</text>
<text x="512.67" y="148.67" font-size="5.5" text-anchor="middle" fill="#222" stroke="#222" stroke-width="0.13" textLength="5.80" lengthAdjust="spacingAndGlyphs">23</text>
<text x="519.73" y="148.67" font-size="5.5" text-anchor="middle" fill="#222" stroke="#222" stroke-width="0.13" textLength="5.80" lengthAdjust="spacingAndGlyphs">25</text>
<text x="526.77" y="148.67" font-size="5.5" text-anchor="middle" fill="#222" stroke="#222" stroke-width="0.13" textLength="5.80" lengthAdjust="spacingAndGlyphs">26</text>
<text x="533.82" y="148.67" font-size="5.5" text-anchor="middle" fill="#222" stroke="#222" stroke-width="0.13" textLength="5.80" lengthAdjust="spacingAndGlyphs">28</text>
<text x="540.88" y="148.67" font-size="5.5" text-anchor="middle" fill="#222" stroke="#222" stroke-width="0.13" textLength="5.80" lengthAdjust="spacingAndGlyphs">30</text>
<polyline points="406.9,23.3 414.0,24.9 421.0,26.5 428.1,27.2 435.1,28.0 442.2,30.1 449.2,32.8 456.3,35.5 463.3,38.5 470.4,42.5 477.4,47.4 484.5,51.5 491.5,55.7 498.6,59.5 505.6,69.6 512.7,80.2 519.7,90.5 526.8,101.0 533.8,111.5 540.9,122.2" fill="none" stroke="#5b9bd5" stroke-width="0.55" stroke-linejoin="round"/>
<g fill="#4a8fd6"><circle cx="406.9" cy="23.3" r="1.45"/><circle cx="414.0" cy="24.9" r="1.45"/><circle cx="421.0" cy="26.5" r="1.45"/><circle cx="428.1" cy="27.2" r="1.45"/><circle cx="435.1" cy="28.0" r="1.45"/><circle cx="442.2" cy="30.1" r="1.45"/><circle cx="449.2" cy="32.8" r="1.45"/><circle cx="456.3" cy="35.5" r="1.45"/><circle cx="463.3" cy="38.5" r="1.45"/><circle cx="470.4" cy="42.5" r="1.45"/><circle cx="477.4" cy="47.4" r="1.45"/><circle cx="484.5" cy="51.5" r="1.45"/><circle cx="491.5" cy="55.7" r="1.45"/><circle cx="498.6" cy="59.5" r="1.45"/><circle cx="505.6" cy="69.6" r="1.45"/><circle cx="512.7" cy="80.2" r="1.45"/><circle cx="519.7" cy="90.5" r="1.45"/><circle cx="526.8" cy="101.0" r="1.45"/><circle cx="533.8" cy="111.5" r="1.45"/><circle cx="540.9" cy="122.2" r="1.45"/></g>
<text x="382.35" y="66.00" font-size="5.5" text-anchor="middle" fill="#222" stroke="#222" stroke-width="0.1" textLength="42.00" lengthAdjust="spacingAndGlyphs" transform="rotate(-90 382.35 66.00)">Temperature (°C)</text>
<text x="474.35" y="157.47" font-size="5.7" text-anchor="middle" fill="#222" stroke="#222" stroke-width="0.1" textLength="76.90" lengthAdjust="spacingAndGlyphs">Distance from the center (mm)</text>
<text x="462.00" y="175.20" font-size="11.8" text-anchor="middle" fill="#111" font-family="'Liberation Serif', serif" font-weight="bold">(c)</text>
<g><g clip-path="url(#c8)"><g filter="url(#b4)"><path d="M408 75.7L470.4 65.4Q479.8 66 480.3 72.4L479.8 90Q479.4 92 477 92.5L419.4 101.4L408.4 99.2Q407.4 98.4 407.4 96.6L407.4 77.4Q407.4 76 408 75.7Z" fill="#981010"/><path d="M408.4 75.9L470.4 65.6Q478 66.2 479.6 70L419 78.6Z" fill="#a61614"/><path d="M416 74.6L470.4 65.6L474 66.4L420 76.4Z" fill="#820a0a"/><path d="M408 76.4L419 78.4L419.2 101L408.4 99Z" fill="#8a0c0c"/><path d="M410 80.6L416.6 81.6Q417.2 89 416.8 96.8L410.4 95.4Q409.6 88 410 80.6Z" fill="#b01210"/><path d="M411.4 83L415.4 83.6Q415.8 89 415.4 94.4L411.6 93.6Q411 88 411.4 83Z" fill="#940c0c"/><path d="M424 82Q430 79 440 79.4L476 73.6L476.4 88L440 94Q430 96 424.4 95.6Q422.6 89 424 82Z" fill="#a61210"/><path d="M440 86L446 81.2L461.6 78.6L465 81.8L463.2 86.8L455 90.4L444 91.4Z" fill="#760808"/><path d="M419.2 78L419.6 101.4" stroke="#3a0202" stroke-width="1.3" fill="none"/><path d="M408.6 76.2L419.2 78.2L479 69.6" stroke="#5a0404" stroke-width="0.8" fill="none"/><path d="M408 75.7L470.4 65.4Q479.8 66 480.3 72.4L479.8 90Q479.4 92 477 92.5L419.4 101.4L408.4 99.2Q407.4 98.4 407.4 96.6L407.4 77.4Q407.4 76 408 75.7Z" fill="none" stroke="#720808" stroke-width="2.2" stroke-linejoin="round"/><path d="M408 75.7L470.4 65.4Q479.8 66 480.3 72.4L479.8 90Q479.4 92 477 92.5L419.4 101.4L408.4 99.2Q407.4 98.4 407.4 96.6L407.4 77.4Q407.4 76 408 75.7Z" fill="none" stroke="#2c0000" stroke-width="1.1" stroke-linejoin="round"/></g></g><g filter="url(#b4)"><path d="M408.6 109.4L473.2 99.3L477.6 101.8L477.4 124L476 124.8L413 132.7L408.4 131.2Q407.2 120 408.6 109.4Z" fill="#8a0e0e"/><path d="M408.6 109.4L473.2 99.3L477.6 101.8L477.4 124L476 124.8L413 132.7L408.4 131.2Q407.2 120 408.6 109.4Z" fill="none" stroke="#2c0202" stroke-width="1.0"/></g><g clip-path="url(#c9)"><g filter="url(#b5)"><path d="M414.6 110.6L477.4 101.9L477.4 124L476 124.8L414.6 132.4Z" fill="#2a0000"/><path d="M422.4 113.6L466.6 107.2L468 108.4L468.2 119.8L466.8 121.2L422.6 127.4L421 126L420.8 115Z" fill="#5a0404" stroke="#5a0404" stroke-width="15.6" stroke-linejoin="round" stroke-linecap="round"/><path d="M422.4 113.6L466.6 107.2L468 108.4L468.2 119.8L466.8 121.2L422.6 127.4L421 126L420.8 115Z" fill="#8e0a08" stroke="#8e0a08" stroke-width="13.0" stroke-linejoin="round" stroke-linecap="round"/><path d="M422.4 113.6L466.6 107.2L468 108.4L468.2 119.8L466.8 121.2L422.6 127.4L421 126L420.8 115Z" fill="#be160a" stroke="#be160a" stroke-width="10.6" stroke-linejoin="round" stroke-linecap="round"/><path d="M422.4 113.6L466.6 107.2L468 108.4L468.2 119.8L466.8 121.2L422.6 127.4L421 126L420.8 115Z" fill="#e0300c" stroke="#e0300c" stroke-width="8.6" stroke-linejoin="round" stroke-linecap="round"/><path d="M422.4 113.6L466.6 107.2L468 108.4L468.2 119.8L466.8 121.2L422.6 127.4L421 126L420.8 115Z" fill="#f8580e" stroke="#f8580e" stroke-width="6.8" stroke-linejoin="round" stroke-linecap="round"/><path d="M422.4 113.6L466.6 107.2L468 108.4L468.2 119.8L466.8 121.2L422.6 127.4L421 126L420.8 115Z" fill="#ff8810" stroke="#ff8810" stroke-width="5.0" stroke-linejoin="round" stroke-linecap="round"/><path d="M422.4 113.6L466.6 107.2L468 108.4L468.2 119.8L466.8 121.2L422.6 127.4L421 126L420.8 115Z" fill="#ffb812" stroke="#ffb812" stroke-width="3.4" stroke-linejoin="round" stroke-linecap="round"/><path d="M422.4 113.6L466.6 107.2L468 108.4L468.2 119.8L466.8 121.2L422.6 127.4L421 126L420.8 115Z" fill="#ffdc14" stroke="#ffdc14" stroke-width="1.8" stroke-linejoin="round" stroke-linecap="round"/><path d="M422.4 113.6L466.6 107.2L468 108.4L468.2 119.8L466.8 121.2L422.6 127.4L421 126L420.8 115Z" fill="#fff418"/></g></g></g>
<rect x="483.30" y="66.50" width="4.50" height="5.73" fill="#fff020"/>
<rect x="483.30" y="72.03" width="4.50" height="5.73" fill="#ffe21a"/>
<rect x="483.30" y="77.55" width="4.50" height="5.73" fill="#ffc414"/>
<rect x="483.30" y="83.08" width="4.50" height="5.73" fill="#ffa010"/>
<rect x="483.30" y="88.60" width="4.50" height="5.73" fill="#ff7c10"/>
<rect x="483.30" y="94.12" width="4.50" height="5.73" fill="#f8520e"/>
<rect x="483.30" y="99.65" width="4.50" height="5.73" fill="#e02a0c"/>
<rect x="483.30" y="105.18" width="4.50" height="5.73" fill="#c0100a"/>
<rect x="483.30" y="110.70" width="4.50" height="5.73" fill="#900606"/>
<rect x="483.30" y="116.23" width="4.50" height="5.73" fill="#600202"/>
<rect x="483.30" y="121.75" width="4.50" height="5.73" fill="#300000"/>
<rect x="483.30" y="127.28" width="4.50" height="5.73" fill="#080000"/>
<text x="489.00" y="68.52" font-size="4.5" text-anchor="start" fill="#222" stroke="#222" stroke-width="0.05" textLength="10.30" lengthAdjust="spacingAndGlyphs">1200</text>
<text x="489.00" y="81.72" font-size="4.5" text-anchor="start" fill="#222" stroke="#222" stroke-width="0.05" textLength="10.30" lengthAdjust="spacingAndGlyphs">1160</text>
<text x="489.00" y="94.82" font-size="4.5" text-anchor="start" fill="#222" stroke="#222" stroke-width="0.05" textLength="10.30" lengthAdjust="spacingAndGlyphs">1120</text>
<text x="489.00" y="107.92" font-size="4.5" text-anchor="start" fill="#222" stroke="#222" stroke-width="0.05" textLength="10.30" lengthAdjust="spacingAndGlyphs">1080</text>
<text x="489.00" y="121.02" font-size="4.5" text-anchor="start" fill="#222" stroke="#222" stroke-width="0.05" textLength="10.30" lengthAdjust="spacingAndGlyphs">1040</text>
<text x="489.00" y="131.92" font-size="4.5" text-anchor="start" fill="#222" stroke="#222" stroke-width="0.05" textLength="10.30" lengthAdjust="spacingAndGlyphs">1000</text>
<rect x="32.00" y="181.90" width="150.40" height="141.60" fill="#fff" stroke="#bdbdbd" stroke-width="0.9"/>
<path d="M32.00 181.90V323.50H182.40" fill="none" stroke="#b0b0b0" stroke-width="0.9"/>
<text x="26.50" y="183.87" font-size="5.8" text-anchor="end" fill="#222" stroke="#222" stroke-width="0.13" textLength="12.70" lengthAdjust="spacingAndGlyphs">1250</text>
<text x="26.50" y="198.03" font-size="5.8" text-anchor="end" fill="#222" stroke="#222" stroke-width="0.13" textLength="12.70" lengthAdjust="spacingAndGlyphs">1225</text>
<text x="26.50" y="212.19" font-size="5.8" text-anchor="end" fill="#222" stroke="#222" stroke-width="0.13" textLength="12.70" lengthAdjust="spacingAndGlyphs">1200</text>
<text x="26.50" y="226.35" font-size="5.8" text-anchor="end" fill="#222" stroke="#222" stroke-width="0.13" textLength="12.70" lengthAdjust="spacingAndGlyphs">1175</text>
<text x="26.50" y="240.51" font-size="5.8" text-anchor="end" fill="#222" stroke="#222" stroke-width="0.13" textLength="12.70" lengthAdjust="spacingAndGlyphs">1150</text>
<text x="26.50" y="254.67" font-size="5.8" text-anchor="end" fill="#222" stroke="#222" stroke-width="0.13" textLength="12.70" lengthAdjust="spacingAndGlyphs">1125</text>
<text x="26.50" y="268.83" font-size="5.8" text-anchor="end" fill="#222" stroke="#222" stroke-width="0.13" textLength="12.70" lengthAdjust="spacingAndGlyphs">1100</text>
<text x="26.50" y="282.99" font-size="5.8" text-anchor="end" fill="#222" stroke="#222" stroke-width="0.13" textLength="12.70" lengthAdjust="spacingAndGlyphs">1075</text>
<text x="26.50" y="297.15" font-size="5.8" text-anchor="end" fill="#222" stroke="#222" stroke-width="0.13" textLength="12.70" lengthAdjust="spacingAndGlyphs">1050</text>
<text x="26.50" y="311.31" font-size="5.8" text-anchor="end" fill="#222" stroke="#222" stroke-width="0.13" textLength="12.70" lengthAdjust="spacingAndGlyphs">1025</text>
<text x="26.50" y="325.47" font-size="5.8" text-anchor="end" fill="#222" stroke="#222" stroke-width="0.13" textLength="12.70" lengthAdjust="spacingAndGlyphs">1000</text>
<path d="M30.20 181.90H32.00M30.20 196.06H32.00M30.20 210.22H32.00M30.20 224.38H32.00M30.20 238.54H32.00M30.20 252.70H32.00M30.20 266.86H32.00M30.20 281.02H32.00M30.20 295.18H32.00M30.20 309.34H32.00M30.20 323.50H32.00M32.00 323.50v1.6M39.52 323.50v1.6M47.04 323.50v1.6M54.56 323.50v1.6M62.08 323.50v1.6M69.60 323.50v1.6M77.12 323.50v1.6M84.64 323.50v1.6M92.16 323.50v1.6M99.68 323.50v1.6M107.20 323.50v1.6M114.72 323.50v1.6M122.24 323.50v1.6M129.76 323.50v1.6M137.28 323.50v1.6M144.80 323.50v1.6M152.32 323.50v1.6M159.84 323.50v1.6M167.36 323.50v1.6M174.88 323.50v1.6M182.40 323.50v1.6" stroke="#8c8c8c" stroke-width="0.8" fill="none"/>
<text x="35.76" y="333.77" font-size="5.8" text-anchor="middle" fill="#222" stroke="#222" stroke-width="0.13" textLength="3.17" lengthAdjust="spacingAndGlyphs">0</text>
<text x="43.28" y="333.77" font-size="5.8" text-anchor="middle" fill="#222" stroke="#222" stroke-width="0.13" textLength="3.17" lengthAdjust="spacingAndGlyphs">2</text>
<text x="50.80" y="333.77" font-size="5.8" text-anchor="middle" fill="#222" stroke="#222" stroke-width="0.13" textLength="3.17" lengthAdjust="spacingAndGlyphs">4</text>
<text x="58.32" y="333.77" font-size="5.8" text-anchor="middle" fill="#222" stroke="#222" stroke-width="0.13" textLength="3.17" lengthAdjust="spacingAndGlyphs">5</text>
<text x="65.84" y="333.77" font-size="5.8" text-anchor="middle" fill="#222" stroke="#222" stroke-width="0.13" textLength="3.17" lengthAdjust="spacingAndGlyphs">7</text>
<text x="73.36" y="333.77" font-size="5.8" text-anchor="middle" fill="#222" stroke="#222" stroke-width="0.13" textLength="3.17" lengthAdjust="spacingAndGlyphs">9</text>
<text x="80.88" y="333.77" font-size="5.8" text-anchor="middle" fill="#222" stroke="#222" stroke-width="0.13" textLength="6.35" lengthAdjust="spacingAndGlyphs">11</text>
<text x="88.40" y="333.77" font-size="5.8" text-anchor="middle" fill="#222" stroke="#222" stroke-width="0.13" textLength="6.35" lengthAdjust="spacingAndGlyphs">13</text>
<text x="95.92" y="333.77" font-size="5.8" text-anchor="middle" fill="#222" stroke="#222" stroke-width="0.13" textLength="6.35" lengthAdjust="spacingAndGlyphs">15</text>
<text x="103.44" y="333.77" font-size="5.8" text-anchor="middle" fill="#222" stroke="#222" stroke-width="0.13" textLength="6.35" lengthAdjust="spacingAndGlyphs">16</text>
<text x="110.96" y="333.77" font-size="5.8" text-anchor="middle" fill="#222" stroke="#222" stroke-width="0.13" textLength="6.35" lengthAdjust="spacingAndGlyphs">18</text>
<text x="118.48" y="333.77" font-size="5.8" text-anchor="middle" fill="#222" stroke="#222" stroke-width="0.13" textLength="6.35" lengthAdjust="spacingAndGlyphs">20</text>
<text x="126.00" y="333.77" font-size="5.8" text-anchor="middle" fill="#222" stroke="#222" stroke-width="0.13" textLength="6.35" lengthAdjust="spacingAndGlyphs">22</text>
<text x="133.52" y="333.77" font-size="5.8" text-anchor="middle" fill="#222" stroke="#222" stroke-width="0.13" textLength="6.35" lengthAdjust="spacingAndGlyphs">24</text>
<text x="141.04" y="333.77" font-size="5.8" text-anchor="middle" fill="#222" stroke="#222" stroke-width="0.13" textLength="6.35" lengthAdjust="spacingAndGlyphs">26</text>
<text x="148.56" y="333.77" font-size="5.8" text-anchor="middle" fill="#222" stroke="#222" stroke-width="0.13" textLength="6.35" lengthAdjust="spacingAndGlyphs">27</text>
<text x="156.08" y="333.77" font-size="5.8" text-anchor="middle" fill="#222" stroke="#222" stroke-width="0.13" textLength="6.35" lengthAdjust="spacingAndGlyphs">29</text>
<text x="163.60" y="333.77" font-size="5.8" text-anchor="middle" fill="#222" stroke="#222" stroke-width="0.13" textLength="6.35" lengthAdjust="spacingAndGlyphs">31</text>
<text x="171.12" y="333.77" font-size="5.8" text-anchor="middle" fill="#222" stroke="#222" stroke-width="0.13" textLength="6.35" lengthAdjust="spacingAndGlyphs">33</text>
<text x="178.64" y="333.77" font-size="5.8" text-anchor="middle" fill="#222" stroke="#222" stroke-width="0.13" textLength="6.35" lengthAdjust="spacingAndGlyphs">35</text>
<polyline points="35.8,211.6 43.3,211.4 50.8,212.1 58.3,212.8 65.8,213.5 73.4,214.4 80.9,216.9 88.4,219.8 95.9,222.6 103.4,226.5 111.0,230.8 118.5,235.6 126.0,240.8 133.5,246.7 141.0,253.1 148.6,258.6 156.1,264.7 163.6,271.1 171.1,277.3 178.6,283.8" fill="none" stroke="#5b9bd5" stroke-width="0.55" stroke-linejoin="round"/>
<g fill="#4a8fd6"><circle cx="35.8" cy="211.6" r="1.45"/><circle cx="43.3" cy="211.4" r="1.45"/><circle cx="50.8" cy="212.1" r="1.45"/><circle cx="58.3" cy="212.8" r="1.45"/><circle cx="65.8" cy="213.5" r="1.45"/><circle cx="73.4" cy="214.4" r="1.45"/><circle cx="80.9" cy="216.9" r="1.45"/><circle cx="88.4" cy="219.8" r="1.45"/><circle cx="95.9" cy="222.6" r="1.45"/><circle cx="103.4" cy="226.5" r="1.45"/><circle cx="111.0" cy="230.8" r="1.45"/><circle cx="118.5" cy="235.6" r="1.45"/><circle cx="126.0" cy="240.8" r="1.45"/><circle cx="133.5" cy="246.7" r="1.45"/><circle cx="141.0" cy="253.1" r="1.45"/><circle cx="148.6" cy="258.6" r="1.45"/><circle cx="156.1" cy="264.7" r="1.45"/><circle cx="163.6" cy="271.1" r="1.45"/><circle cx="171.1" cy="277.3" r="1.45"/><circle cx="178.6" cy="283.8" r="1.45"/></g>
<text x="8.64" y="246.80" font-size="5.8" text-anchor="middle" fill="#222" stroke="#222" stroke-width="0.1" textLength="43.80" lengthAdjust="spacingAndGlyphs" transform="rotate(-90 8.64 246.80)">Temperature (°C)</text>
<text x="107.25" y="342.47" font-size="6.0" text-anchor="middle" fill="#222" stroke="#222" stroke-width="0.1" textLength="79.50" lengthAdjust="spacingAndGlyphs">Distance from the center (mm)</text>
<text x="93.50" y="356.80" font-size="11.8" text-anchor="middle" fill="#111" font-family="'Liberation Serif', serif" font-weight="bold">(d)</text>
<g><g clip-path="url(#c10)"><g filter="url(#b5)"><path d="M41 258.6L57.1 254.3L73.9 256.8L76 261.4Q79.6 286 74.9 314.2L54 319.5L41.4 313.2Q34.4 288 41 258.6Z" fill="#c01a12"/><path d="M34 262L53 267Q56.4 292 54 320L34 320Z" fill="#a81410"/><path d="M39.4 272Q38 288 42 306L49.4 309Q51.6 290 49.4 272Z" fill="#b41a12"/><ellipse cx="65.6" cy="275.4" rx="6.4" ry="5.4" fill="#d82818"/><ellipse cx="64.6" cy="299.8" rx="6.8" ry="9.2" fill="#d82818"/><ellipse cx="65.6" cy="275.6" rx="4" ry="3.2" fill="#e2341e"/><ellipse cx="64.8" cy="300.2" rx="4.2" ry="6.4" fill="#e2341e"/><path d="M53 266Q56.6 292 54 320" stroke="#6e0606" stroke-width="1.5" fill="none"/><path d="M41 258.6L57.1 254.3L73.9 256.8L76 261.4Q79.6 286 74.9 314.2L54 319.5L41.4 313.2Q34.4 288 41 258.6Z" fill="none" stroke="#8e0c0a" stroke-width="3.2" stroke-linejoin="round"/><path d="M41 258.6L57.1 254.3L73.9 256.8L76 261.4Q79.6 286 74.9 314.2L54 319.5L41.4 313.2Q34.4 288 41 258.6Z" fill="none" stroke="#2c0202" stroke-width="1.4" stroke-linejoin="round"/></g></g><g clip-path="url(#c11)"><g filter="url(#b5)"><path d="M34 250L82 250L82 265.6L53 269L34 265Z" fill="#6e0808"/><path d="M34 250L82 250L82 264L53 267.4L34 263.4Z" fill="#220202"/><path d="M34 250L82 250L82 262.6L53 266L34 262Z" fill="#060000"/><path d="M34 308.6L54 314.4L82 309.4L82 324L34 324Z" fill="#5c0606"/><path d="M34 310.4L54 316.2L82 311.2L82 324L34 324Z" fill="#100000"/></g></g><g filter="url(#b4)"><path d="M86.5 258.6L98 254.3L112.7 256L114.3 260.4Q116.6 286 113.7 313.2L93.8 318.4L85.4 315.2Q78.6 288 86.5 258.6Z" fill="#9c1010"/><path d="M86.5 258.6L98 254.3L112.7 256L114.3 260.4Q116.6 286 113.7 313.2L93.8 318.4L85.4 315.2Q78.6 288 86.5 258.6Z" fill="none" stroke="#2c0202" stroke-width="1.1"/></g><g clip-path="url(#c12)"><g filter="url(#b5)"><path d="M86.5 258.6L98 254.3L112.7 256L114.3 260.4Q116.6 286 113.7 313.2L93.8 318.4L85.4 315.2Q78.6 288 86.5 258.6Z" fill="#3a0202"/><path d="M116.2 288.0L116.0 298.9L115.6 304.6L114.8 309.1L113.7 312.7L112.2 315.5L110.4 317.7L108.0 319.3L105.0 320.2L99.2 320.5L93.3 320.2L90.3 319.3L87.9 317.7L86.1 315.5L84.6 312.7L83.5 309.1L82.7 304.6L82.3 298.9L82.1 288.0L82.3 277.1L82.7 271.4L83.5 266.9L84.6 263.3L86.1 260.5L87.9 258.3L90.3 256.7L93.3 255.8L99.1 255.5L105.0 255.8L108.0 256.7L110.4 258.3L112.2 260.5L113.7 263.3L114.8 266.9L115.6 271.4L116.0 277.1Z" fill="#7a0808"/><path d="M115.1 287.9L115.0 298.1L114.7 303.5L114.0 307.7L113.1 311.1L111.8 313.7L110.1 315.8L108.0 317.2L105.3 318.1L100.1 318.4L94.9 318.1L92.2 317.2L90.1 315.8L88.4 313.7L87.1 311.1L86.2 307.7L85.5 303.5L85.2 298.1L85.1 288.0L85.2 277.8L85.5 272.4L86.2 268.2L87.1 264.8L88.4 262.2L90.1 260.1L92.2 258.7L94.9 257.8L100.1 257.5L105.3 257.8L108.0 258.7L110.1 260.1L111.8 262.2L113.1 264.8L114.0 268.2L114.7 272.4L115.0 277.8Z" fill="#b0120a"/><path d="M114.1 288.0L114.0 297.5L113.7 302.5L113.1 306.4L112.3 309.5L111.2 312.0L109.8 314.0L107.9 315.3L105.5 316.1L101.0 316.4L96.5 316.1L94.1 315.3L92.2 314.0L90.8 312.0L89.7 309.5L88.9 306.4L88.3 302.5L88.0 297.5L87.9 288.0L88.0 278.5L88.3 273.5L88.9 269.6L89.7 266.5L90.8 264.0L92.2 262.0L94.1 260.7L96.5 259.9L101.0 259.6L105.5 259.9L107.9 260.7L109.8 262.0L111.2 264.0L112.3 266.5L113.1 269.6L113.7 273.5L114.0 278.5Z" fill="#d8280c"/><path d="M113.0 287.8L113.0 296.8L112.7 301.6L112.3 305.3L111.5 308.3L110.6 310.7L109.3 312.5L107.7 313.8L105.6 314.5L101.6 314.8L97.6 314.5L95.5 313.8L93.9 312.5L92.6 310.7L91.7 308.3L90.9 305.3L90.5 301.6L90.2 296.8L90.2 287.8L90.2 278.8L90.5 274.0L90.9 270.3L91.7 267.3L92.6 264.9L93.9 263.1L95.5 261.8L97.6 261.1L101.6 260.8L105.6 261.1L107.7 261.8L109.3 263.1L110.6 264.9L111.5 267.3L112.3 270.3L112.7 274.0L113.0 278.8Z" fill="#f4500e"/><path d="M112.0 287.6L111.9 296.2L111.7 300.8L111.4 304.3L110.7 307.2L109.9 309.4L108.8 311.2L107.4 312.4L105.5 313.2L102.0 313.4L98.5 313.2L96.6 312.4L95.2 311.2L94.1 309.4L93.3 307.2L92.6 304.3L92.3 300.8L92.1 296.2L92.0 287.6L92.1 279.0L92.3 274.4L92.6 270.9L93.3 268.0L94.1 265.8L95.2 264.0L96.6 262.8L98.5 262.0L102.0 261.8L105.5 262.0L107.4 262.8L108.8 264.0L109.9 265.8L110.7 268.0L111.4 270.9L111.7 274.4L111.9 279.0Z" fill="#ff7c10"/><path d="M110.9 287.4L110.9 295.7L110.7 300.1L110.4 303.5L109.9 306.2L109.2 308.4L108.3 310.1L107.0 311.3L105.4 312.0L102.3 312.2L99.2 312.0L97.6 311.3L96.3 310.1L95.4 308.4L94.7 306.2L94.2 303.5L93.9 300.1L93.7 295.7L93.7 287.4L93.7 279.1L93.9 274.7L94.2 271.3L94.7 268.6L95.4 266.4L96.3 264.7L97.6 263.5L99.2 262.8L102.3 262.6L105.4 262.8L107.0 263.5L108.3 264.7L109.2 266.4L109.9 268.6L110.4 271.3L110.7 274.7L110.9 279.1Z" fill="#ffa012"/><path d="M109.8 287.3L109.8 295.2L109.7 299.4L109.5 302.7L109.1 305.3L108.5 307.4L107.7 309.0L106.7 310.1L105.3 310.8L102.6 311.0L99.9 310.8L98.5 310.1L97.5 309.0L96.7 307.4L96.1 305.3L95.7 302.7L95.5 299.4L95.4 295.2L95.4 287.3L95.4 279.4L95.5 275.2L95.7 271.9L96.1 269.3L96.7 267.2L97.5 265.6L98.5 264.5L99.9 263.8L102.6 263.6L105.3 263.8L106.7 264.5L107.7 265.6L108.5 267.2L109.1 269.3L109.5 271.9L109.7 275.2L109.8 279.4Z" fill="#ffc414"/><path d="M108.4 287.4L108.4 294.7L108.4 298.5L108.2 301.5L107.9 303.9L107.5 305.9L106.9 307.3L106.0 308.4L104.9 309.0L102.8 309.2L100.7 309.0L99.6 308.4L98.7 307.3L98.1 305.9L97.7 303.9L97.4 301.5L97.2 298.5L97.2 294.7L97.2 287.4L97.2 280.1L97.2 276.3L97.4 273.3L97.7 270.9L98.1 268.9L98.7 267.5L99.6 266.4L100.7 265.8L102.8 265.6L104.9 265.8L106.0 266.4L106.9 267.5L107.5 268.9L107.9 270.9L108.2 273.3L108.4 276.3L108.4 280.1Z" fill="#ffe218"/><path d="M107.0 287.5L107.0 293.7L107.0 297.2L106.9 300.0L106.7 302.3L106.3 304.2L105.9 305.6L105.2 306.6L104.4 307.2L102.8 307.4L101.2 307.2L100.4 306.6L99.7 305.6L99.3 304.2L98.9 302.3L98.7 300.0L98.6 297.2L98.6 293.7L98.6 287.5L98.6 281.3L98.6 277.8L98.7 275.0L98.9 272.7L99.3 270.8L99.7 269.4L100.4 268.4L101.2 267.8L102.8 267.6L104.4 267.8L105.2 268.4L105.9 269.4L106.3 270.8L106.7 272.7L106.9 275.0L107.0 277.8L107.0 281.3Z" fill="#fff21a"/></g></g><g clip-path="url(#c13)"><g filter="url(#b5)"><path d="M80 250L118 250L118 261.2L100 260.6L90 262.6L80 262Z" fill="#3c0404"/><path d="M80 250L118 250L118 260L100 259.4L90 261.4L80 260.8Z" fill="#050000"/><path d="M80 312.4L90 315.8L95 317L118 311L118 324L80 324Z" fill="#100000"/></g></g></g>
<rect x="119.20" y="253.20" width="4.60" height="5.68" fill="#fff020"/>
<rect x="119.20" y="258.68" width="4.60" height="5.68" fill="#ffe21a"/>
<rect x="119.20" y="264.17" width="4.60" height="5.68" fill="#ffc414"/>
<rect x="119.20" y="269.65" width="4.60" height="5.68" fill="#ffa010"/>
<rect x="119.20" y="275.13" width="4.60" height="5.68" fill="#ff7c10"/>
<rect x="119.20" y="280.62" width="4.60" height="5.68" fill="#f8520e"/>
<rect x="119.20" y="286.10" width="4.60" height="5.68" fill="#e02a0c"/>
<rect x="119.20" y="291.58" width="4.60" height="5.68" fill="#c0100a"/>
<rect x="119.20" y="297.07" width="4.60" height="5.68" fill="#900606"/>
<rect x="119.20" y="302.55" width="4.60" height="5.68" fill="#600202"/>
<rect x="119.20" y="308.03" width="4.60" height="5.68" fill="#300000"/>
<rect x="119.20" y="313.52" width="4.60" height="5.68" fill="#080000"/>
<text x="125.00" y="255.32" font-size="4.5" text-anchor="start" fill="#222" stroke="#222" stroke-width="0.05" textLength="10.30" lengthAdjust="spacingAndGlyphs">1200</text>
<text x="125.00" y="268.32" font-size="4.5" text-anchor="start" fill="#222" stroke="#222" stroke-width="0.05" textLength="10.30" lengthAdjust="spacingAndGlyphs">1160</text>
<text x="125.00" y="281.32" font-size="4.5" text-anchor="start" fill="#222" stroke="#222" stroke-width="0.05" textLength="10.30" lengthAdjust="spacingAndGlyphs">1120</text>
<text x="125.00" y="294.32" font-size="4.5" text-anchor="start" fill="#222" stroke="#222" stroke-width="0.05" textLength="10.30" lengthAdjust="spacingAndGlyphs">1080</text>
<text x="125.00" y="307.32" font-size="4.5" text-anchor="start" fill="#222" stroke="#222" stroke-width="0.05" textLength="10.30" lengthAdjust="spacingAndGlyphs">1040</text>
<text x="125.00" y="318.12" font-size="4.5" text-anchor="start" fill="#222" stroke="#222" stroke-width="0.05" textLength="10.30" lengthAdjust="spacingAndGlyphs">1000</text>
<rect x="217.00" y="184.60" width="149.20" height="137.70" fill="#fff" stroke="#bdbdbd" stroke-width="0.8"/>
<path d="M217.00 184.60V322.30H366.20" fill="none" stroke="#a8a8a8" stroke-width="0.8"/>
<text x="211.10" y="186.57" font-size="5.8" text-anchor="end" fill="#222" stroke="#222" stroke-width="0.13" textLength="12.60" lengthAdjust="spacingAndGlyphs">1250</text>
<text x="211.10" y="200.34" font-size="5.8" text-anchor="end" fill="#222" stroke="#222" stroke-width="0.13" textLength="12.60" lengthAdjust="spacingAndGlyphs">1225</text>
<text x="211.10" y="214.11" font-size="5.8" text-anchor="end" fill="#222" stroke="#222" stroke-width="0.13" textLength="12.60" lengthAdjust="spacingAndGlyphs">1200</text>
<text x="211.10" y="227.88" font-size="5.8" text-anchor="end" fill="#222" stroke="#222" stroke-width="0.13" textLength="12.60" lengthAdjust="spacingAndGlyphs">1175</text>
<text x="211.10" y="241.65" font-size="5.8" text-anchor="end" fill="#222" stroke="#222" stroke-width="0.13" textLength="12.60" lengthAdjust="spacingAndGlyphs">1150</text>
<text x="211.10" y="255.42" font-size="5.8" text-anchor="end" fill="#222" stroke="#222" stroke-width="0.13" textLength="12.60" lengthAdjust="spacingAndGlyphs">1125</text>
<text x="211.10" y="269.19" font-size="5.8" text-anchor="end" fill="#222" stroke="#222" stroke-width="0.13" textLength="12.60" lengthAdjust="spacingAndGlyphs">1100</text>
<text x="211.10" y="282.96" font-size="5.8" text-anchor="end" fill="#222" stroke="#222" stroke-width="0.13" textLength="12.60" lengthAdjust="spacingAndGlyphs">1075</text>
<text x="211.10" y="296.73" font-size="5.8" text-anchor="end" fill="#222" stroke="#222" stroke-width="0.13" textLength="12.60" lengthAdjust="spacingAndGlyphs">1050</text>
<text x="211.10" y="310.50" font-size="5.8" text-anchor="end" fill="#222" stroke="#222" stroke-width="0.13" textLength="12.60" lengthAdjust="spacingAndGlyphs">1025</text>
<text x="211.10" y="324.27" font-size="5.8" text-anchor="end" fill="#222" stroke="#222" stroke-width="0.13" textLength="12.60" lengthAdjust="spacingAndGlyphs">1000</text>
<path d="M215.20 184.60H217.00M215.20 198.37H217.00M215.20 212.14H217.00M215.20 225.91H217.00M215.20 239.68H217.00M215.20 253.45H217.00M215.20 267.22H217.00M215.20 280.99H217.00M215.20 294.76H217.00M215.20 308.53H217.00M215.20 322.30H217.00M217.00 322.30v1.6M224.46 322.30v1.6M231.92 322.30v1.6M239.38 322.30v1.6M246.84 322.30v1.6M254.30 322.30v1.6M261.76 322.30v1.6M269.22 322.30v1.6M276.68 322.30v1.6M284.14 322.30v1.6M291.60 322.30v1.6M299.06 322.30v1.6M306.52 322.30v1.6M313.98 322.30v1.6M321.44 322.30v1.6M328.90 322.30v1.6M336.36 322.30v1.6M343.82 322.30v1.6M351.28 322.30v1.6M358.74 322.30v1.6M366.20 322.30v1.6" stroke="#8c8c8c" stroke-width="0.8" fill="none"/>
<text x="220.73" y="332.67" font-size="5.8" text-anchor="middle" fill="#222" stroke="#222" stroke-width="0.13" textLength="3.15" lengthAdjust="spacingAndGlyphs">0</text>
<text x="228.19" y="332.67" font-size="5.8" text-anchor="middle" fill="#222" stroke="#222" stroke-width="0.13" textLength="3.15" lengthAdjust="spacingAndGlyphs">1</text>
<text x="235.65" y="332.67" font-size="5.8" text-anchor="middle" fill="#222" stroke="#222" stroke-width="0.13" textLength="3.15" lengthAdjust="spacingAndGlyphs">3</text>
<text x="243.11" y="332.67" font-size="5.8" text-anchor="middle" fill="#222" stroke="#222" stroke-width="0.13" textLength="3.15" lengthAdjust="spacingAndGlyphs">4</text>
<text x="250.57" y="332.67" font-size="5.8" text-anchor="middle" fill="#222" stroke="#222" stroke-width="0.13" textLength="3.15" lengthAdjust="spacingAndGlyphs">6</text>
<text x="258.03" y="332.67" font-size="5.8" text-anchor="middle" fill="#222" stroke="#222" stroke-width="0.13" textLength="3.15" lengthAdjust="spacingAndGlyphs">7</text>
<text x="265.49" y="332.67" font-size="5.8" text-anchor="middle" fill="#222" stroke="#222" stroke-width="0.13" textLength="3.15" lengthAdjust="spacingAndGlyphs">9</text>
<text x="272.95" y="332.67" font-size="5.8" text-anchor="middle" fill="#222" stroke="#222" stroke-width="0.13" textLength="6.30" lengthAdjust="spacingAndGlyphs">10</text>
<text x="280.41" y="332.67" font-size="5.8" text-anchor="middle" fill="#222" stroke="#222" stroke-width="0.13" textLength="6.30" lengthAdjust="spacingAndGlyphs">12</text>
<text x="287.87" y="332.67" font-size="5.8" text-anchor="middle" fill="#222" stroke="#222" stroke-width="0.13" textLength="6.30" lengthAdjust="spacingAndGlyphs">13</text>
<text x="295.33" y="332.67" font-size="5.8" text-anchor="middle" fill="#222" stroke="#222" stroke-width="0.13" textLength="6.30" lengthAdjust="spacingAndGlyphs">15</text>
<text x="302.79" y="332.67" font-size="5.8" text-anchor="middle" fill="#222" stroke="#222" stroke-width="0.13" textLength="6.30" lengthAdjust="spacingAndGlyphs">16</text>
<text x="310.25" y="332.67" font-size="5.8" text-anchor="middle" fill="#222" stroke="#222" stroke-width="0.13" textLength="6.30" lengthAdjust="spacingAndGlyphs">18</text>
<text x="317.71" y="332.67" font-size="5.8" text-anchor="middle" fill="#222" stroke="#222" stroke-width="0.13" textLength="6.30" lengthAdjust="spacingAndGlyphs">19</text>
<text x="325.17" y="332.67" font-size="5.8" text-anchor="middle" fill="#222" stroke="#222" stroke-width="0.13" textLength="6.30" lengthAdjust="spacingAndGlyphs">21</text>
<text x="332.63" y="332.67" font-size="5.8" text-anchor="middle" fill="#222" stroke="#222" stroke-width="0.13" textLength="6.30" lengthAdjust="spacingAndGlyphs">22</text>
<text x="340.09" y="332.67" font-size="5.8" text-anchor="middle" fill="#222" stroke="#222" stroke-width="0.13" textLength="6.30" lengthAdjust="spacingAndGlyphs">24</text>
<text x="347.55" y="332.67" font-size="5.8" text-anchor="middle" fill="#222" stroke="#222" stroke-width="0.13" textLength="6.30" lengthAdjust="spacingAndGlyphs">25</text>
<text x="355.01" y="332.67" font-size="5.8" text-anchor="middle" fill="#222" stroke="#222" stroke-width="0.13" textLength="6.30" lengthAdjust="spacingAndGlyphs">27</text>
<text x="362.47" y="332.67" font-size="5.8" text-anchor="middle" fill="#222" stroke="#222" stroke-width="0.13" textLength="6.30" lengthAdjust="spacingAndGlyphs">28</text>
<polyline points="220.7,241.4 228.2,242.4 235.7,243.2 243.1,244.0 250.6,244.9 258.0,245.9 265.5,246.6 272.9,247.5 280.4,250.7 287.9,254.3 295.3,257.7 302.8,261.1 310.2,264.3 317.7,267.8 325.2,271.6 332.6,278.7 340.1,286.4 347.5,295.2 355.0,303.5 362.5,312.2" fill="none" stroke="#5b9bd5" stroke-width="0.55" stroke-linejoin="round"/>
<g fill="#4a8fd6"><rect x="219.3" y="240.0" width="2.8" height="2.8"/><rect x="226.8" y="241.0" width="2.8" height="2.8"/><rect x="234.2" y="241.8" width="2.8" height="2.8"/><rect x="241.7" y="242.6" width="2.8" height="2.8"/><rect x="249.2" y="243.5" width="2.8" height="2.8"/><rect x="256.6" y="244.5" width="2.8" height="2.8"/><rect x="264.1" y="245.2" width="2.8" height="2.8"/><rect x="271.6" y="246.1" width="2.8" height="2.8"/><rect x="279.0" y="249.3" width="2.8" height="2.8"/><rect x="286.5" y="252.9" width="2.8" height="2.8"/><rect x="293.9" y="256.3" width="2.8" height="2.8"/><rect x="301.4" y="259.7" width="2.8" height="2.8"/><rect x="308.9" y="262.9" width="2.8" height="2.8"/><rect x="316.3" y="266.4" width="2.8" height="2.8"/><rect x="323.8" y="270.2" width="2.8" height="2.8"/><rect x="331.2" y="277.3" width="2.8" height="2.8"/><rect x="338.7" y="285.0" width="2.8" height="2.8"/><rect x="346.1" y="293.8" width="2.8" height="2.8"/><rect x="353.6" y="302.1" width="2.8" height="2.8"/><rect x="361.1" y="310.8" width="2.8" height="2.8"/></g>
<text x="193.14" y="250.10" font-size="5.8" text-anchor="middle" fill="#222" stroke="#222" stroke-width="0.1" textLength="43.80" lengthAdjust="spacingAndGlyphs" transform="rotate(-90 193.14 250.10)">Temperature (°C)</text>
<text x="291.25" y="341.67" font-size="6.0" text-anchor="middle" fill="#222" stroke="#222" stroke-width="0.1" textLength="80.30" lengthAdjust="spacingAndGlyphs">Distance from the center (mm)</text>
<text x="277.70" y="356.80" font-size="11.8" text-anchor="middle" fill="#111" font-family="'Liberation Serif', serif" font-weight="bold">(e)</text>
<g><g clip-path="url(#c14)"><g filter="url(#b5)"><path d="M291 196.2L337.6 188.9Q344.2 189.6 344.5 198Q344 204 341.6 205.5L295 212.7Q288.2 212.6 287.4 205Q287.2 198 291 196.2Z" fill="#140202"/><path d="M297 196.6L338.6 190Q341 192 340.8 197.4L340 203.8L299 210.6Q296.4 204 297 196.6Z" fill="#800c0c"/><path d="M302 203.6L334 198L336 201.4L304 207.6Z" fill="#981210"/><path d="M300 198.6L336 192.8L336.4 194.6L300.4 200.4Z" fill="#6a0808"/><ellipse cx="291.6" cy="205" rx="1.7" ry="2.6" fill="#6a0a0a"/><path d="M338.6 190Q343 191 343.4 197.4Q343.2 202.4 341.2 204.6" stroke="#0a0000" stroke-width="2.6" fill="none"/><path d="M291 196.2L337.6 188.9Q344.2 189.6 344.5 198Q344 204 341.6 205.5L295 212.7Q288.2 212.6 287.4 205Q287.2 198 291 196.2Z" fill="none" stroke="#080000" stroke-width="1.4" stroke-linejoin="round"/></g></g><g clip-path="url(#c15)"><g filter="url(#b5)"><path d="M291 228.7L340.6 220.9Q342.8 221.4 342.9 224.4L342.7 235.4Q342.4 236.8 341 237.1L293 244.5Q288.4 244 288.1 240L288.1 232.4Q288.4 229.4 291 228.7Z" fill="#060000"/><path d="M296.5 235.9L336 229.8" fill="none" stroke="#3a0202" stroke-width="14.4" stroke-linecap="round"/><path d="M297.5 235.7L335.5 229.9" fill="none" stroke="#7e0a08" stroke-width="13.2" stroke-linecap="round"/><path d="M298.5 235.6L335 229.9" fill="none" stroke="#b4140a" stroke-width="12.0" stroke-linecap="round"/><path d="M299.5 235.4L334.5 230.0" fill="none" stroke="#dc2c0c" stroke-width="10.8" stroke-linecap="round"/><path d="M300.5 235.3L334 230.1" fill="none" stroke="#f4500e" stroke-width="9.6" stroke-linecap="round"/><path d="M301.5 235.1L333.5 230.2" fill="none" stroke="#ff7410" stroke-width="8.2" stroke-linecap="round"/><path d="M303 234.9L332.5 230.3" fill="none" stroke="#ff9012" stroke-width="6.4" stroke-linecap="round"/><path d="M304.5 234.7L330 230.7" fill="none" stroke="#ffa816" stroke-width="4.2" stroke-linecap="round"/><path d="M307.5 234.2L318 232.6" fill="none" stroke="#ffc824" stroke-width="1.8" stroke-linecap="round"/></g></g></g>
<rect x="348.70" y="188.70" width="3.90" height="5.33" fill="#fff020"/>
<rect x="348.70" y="193.83" width="3.90" height="5.33" fill="#ffe21a"/>
<rect x="348.70" y="198.97" width="3.90" height="5.33" fill="#ffc414"/>
<rect x="348.70" y="204.10" width="3.90" height="5.33" fill="#ffa010"/>
<rect x="348.70" y="209.23" width="3.90" height="5.33" fill="#ff7c10"/>
<rect x="348.70" y="214.37" width="3.90" height="5.33" fill="#f8520e"/>
<rect x="348.70" y="219.50" width="3.90" height="5.33" fill="#e02a0c"/>
<rect x="348.70" y="224.63" width="3.90" height="5.33" fill="#c0100a"/>
<rect x="348.70" y="229.77" width="3.90" height="5.33" fill="#900606"/>
<rect x="348.70" y="234.90" width="3.90" height="5.33" fill="#600202"/>
<rect x="348.70" y="240.03" width="3.90" height="5.33" fill="#300000"/>
<rect x="348.70" y="245.17" width="3.90" height="5.33" fill="#080000"/>
<text x="353.80" y="190.81" font-size="4.2" text-anchor="start" fill="#222" stroke="#222" stroke-width="0.05" textLength="9.70" lengthAdjust="spacingAndGlyphs">1200</text>
<text x="353.80" y="202.91" font-size="4.2" text-anchor="start" fill="#222" stroke="#222" stroke-width="0.05" textLength="9.70" lengthAdjust="spacingAndGlyphs">1160</text>
<text x="353.80" y="215.11" font-size="4.2" text-anchor="start" fill="#222" stroke="#222" stroke-width="0.05" textLength="9.70" lengthAdjust="spacingAndGlyphs">1120</text>
<text x="353.80" y="227.41" font-size="4.2" text-anchor="start" fill="#222" stroke="#222" stroke-width="0.05" textLength="9.70" lengthAdjust="spacingAndGlyphs">1080</text>
<text x="353.80" y="239.81" font-size="4.2" text-anchor="start" fill="#222" stroke="#222" stroke-width="0.05" textLength="9.70" lengthAdjust="spacingAndGlyphs">1040</text>
<text x="353.80" y="249.81" font-size="4.2" text-anchor="start" fill="#222" stroke="#222" stroke-width="0.05" textLength="9.70" lengthAdjust="spacingAndGlyphs">1000</text>
<rect x="401.4" y="187.3" width="142.60" height="130.30" fill="#fff" stroke="#b0b0b0" stroke-width="1.1"/>
<text x="397.20" y="189.27" font-size="5.8" text-anchor="end" fill="#222" stroke="#222" stroke-width="0.13" textLength="12.30" lengthAdjust="spacingAndGlyphs">1220</text>
<text x="397.20" y="200.13" font-size="5.8" text-anchor="end" fill="#222" stroke="#222" stroke-width="0.13" textLength="12.30" lengthAdjust="spacingAndGlyphs">1120</text>
<text x="397.20" y="210.99" font-size="5.8" text-anchor="end" fill="#222" stroke="#222" stroke-width="0.13" textLength="12.30" lengthAdjust="spacingAndGlyphs">1020</text>
<text x="397.20" y="221.85" font-size="5.8" text-anchor="end" fill="#222" stroke="#222" stroke-width="0.13" textLength="9.23" lengthAdjust="spacingAndGlyphs">920</text>
<text x="397.20" y="232.71" font-size="5.8" text-anchor="end" fill="#222" stroke="#222" stroke-width="0.13" textLength="9.23" lengthAdjust="spacingAndGlyphs">820</text>
<text x="397.20" y="243.56" font-size="5.8" text-anchor="end" fill="#222" stroke="#222" stroke-width="0.13" textLength="9.23" lengthAdjust="spacingAndGlyphs">720</text>
<text x="397.20" y="254.42" font-size="5.8" text-anchor="end" fill="#222" stroke="#222" stroke-width="0.13" textLength="9.23" lengthAdjust="spacingAndGlyphs">620</text>
<text x="397.20" y="265.28" font-size="5.8" text-anchor="end" fill="#222" stroke="#222" stroke-width="0.13" textLength="9.23" lengthAdjust="spacingAndGlyphs">520</text>
<text x="397.20" y="276.14" font-size="5.8" text-anchor="end" fill="#222" stroke="#222" stroke-width="0.13" textLength="9.23" lengthAdjust="spacingAndGlyphs">420</text>
<text x="397.20" y="287.00" font-size="5.8" text-anchor="end" fill="#222" stroke="#222" stroke-width="0.13" textLength="9.23" lengthAdjust="spacingAndGlyphs">320</text>
<text x="397.20" y="297.86" font-size="5.8" text-anchor="end" fill="#222" stroke="#222" stroke-width="0.13" textLength="9.23" lengthAdjust="spacingAndGlyphs">220</text>
<text x="397.20" y="308.71" font-size="5.8" text-anchor="end" fill="#222" stroke="#222" stroke-width="0.13" textLength="9.23" lengthAdjust="spacingAndGlyphs">120</text>
<text x="397.20" y="319.57" font-size="5.8" text-anchor="end" fill="#222" stroke="#222" stroke-width="0.13" textLength="6.15" lengthAdjust="spacingAndGlyphs">20</text>
<text x="403.40" y="320.60" font-size="5.8" text-anchor="end" fill="#222" stroke="#222" stroke-width="0.13" textLength="3.10" lengthAdjust="spacingAndGlyphs" transform="rotate(-90 403.40 320.60)">0</text>
<text x="411.37" y="320.60" font-size="5.8" text-anchor="end" fill="#222" stroke="#222" stroke-width="0.13" textLength="6.20" lengthAdjust="spacingAndGlyphs" transform="rotate(-90 411.37 320.60)">20</text>
<text x="419.34" y="320.60" font-size="5.8" text-anchor="end" fill="#222" stroke="#222" stroke-width="0.13" textLength="6.20" lengthAdjust="spacingAndGlyphs" transform="rotate(-90 419.34 320.60)">40</text>
<text x="427.31" y="320.60" font-size="5.8" text-anchor="end" fill="#222" stroke="#222" stroke-width="0.13" textLength="6.20" lengthAdjust="spacingAndGlyphs" transform="rotate(-90 427.31 320.60)">60</text>
<text x="435.28" y="320.60" font-size="5.8" text-anchor="end" fill="#222" stroke="#222" stroke-width="0.13" textLength="6.20" lengthAdjust="spacingAndGlyphs" transform="rotate(-90 435.28 320.60)">80</text>
<text x="443.25" y="320.60" font-size="5.8" text-anchor="end" fill="#222" stroke="#222" stroke-width="0.13" textLength="9.30" lengthAdjust="spacingAndGlyphs" transform="rotate(-90 443.25 320.60)">100</text>
<text x="451.22" y="320.60" font-size="5.8" text-anchor="end" fill="#222" stroke="#222" stroke-width="0.13" textLength="9.30" lengthAdjust="spacingAndGlyphs" transform="rotate(-90 451.22 320.60)">120</text>
<text x="459.19" y="320.60" font-size="5.8" text-anchor="end" fill="#222" stroke="#222" stroke-width="0.13" textLength="9.30" lengthAdjust="spacingAndGlyphs" transform="rotate(-90 459.19 320.60)">140</text>
<text x="467.16" y="320.60" font-size="5.8" text-anchor="end" fill="#222" stroke="#222" stroke-width="0.13" textLength="9.30" lengthAdjust="spacingAndGlyphs" transform="rotate(-90 467.16 320.60)">160</text>
<text x="475.13" y="320.60" font-size="5.8" text-anchor="end" fill="#222" stroke="#222" stroke-width="0.13" textLength="9.30" lengthAdjust="spacingAndGlyphs" transform="rotate(-90 475.13 320.60)">180</text>
<text x="483.10" y="320.60" font-size="5.8" text-anchor="end" fill="#222" stroke="#222" stroke-width="0.13" textLength="9.30" lengthAdjust="spacingAndGlyphs" transform="rotate(-90 483.10 320.60)">200</text>
<text x="491.07" y="320.60" font-size="5.8" text-anchor="end" fill="#222" stroke="#222" stroke-width="0.13" textLength="9.30" lengthAdjust="spacingAndGlyphs" transform="rotate(-90 491.07 320.60)">220</text>
<text x="499.04" y="320.60" font-size="5.8" text-anchor="end" fill="#222" stroke="#222" stroke-width="0.13" textLength="9.30" lengthAdjust="spacingAndGlyphs" transform="rotate(-90 499.04 320.60)">240</text>
<text x="507.01" y="320.60" font-size="5.8" text-anchor="end" fill="#222" stroke="#222" stroke-width="0.13" textLength="9.30" lengthAdjust="spacingAndGlyphs" transform="rotate(-90 507.01 320.60)">260</text>
<text x="514.98" y="320.60" font-size="5.8" text-anchor="end" fill="#222" stroke="#222" stroke-width="0.13" textLength="9.30" lengthAdjust="spacingAndGlyphs" transform="rotate(-90 514.98 320.60)">280</text>
<text x="522.95" y="320.60" font-size="5.8" text-anchor="end" fill="#222" stroke="#222" stroke-width="0.13" textLength="9.30" lengthAdjust="spacingAndGlyphs" transform="rotate(-90 522.95 320.60)">300</text>
<text x="530.92" y="320.60" font-size="5.8" text-anchor="end" fill="#222" stroke="#222" stroke-width="0.13" textLength="9.30" lengthAdjust="spacingAndGlyphs" transform="rotate(-90 530.92 320.60)">320</text>
<text x="538.89" y="320.60" font-size="5.8" text-anchor="end" fill="#222" stroke="#222" stroke-width="0.13" textLength="9.30" lengthAdjust="spacingAndGlyphs" transform="rotate(-90 538.89 320.60)">340</text>
<text x="546.86" y="320.60" font-size="5.8" text-anchor="end" fill="#222" stroke="#222" stroke-width="0.13" textLength="9.30" lengthAdjust="spacingAndGlyphs" transform="rotate(-90 546.86 320.60)">360</text>
<path d="M399.60 187.30H401.40M399.60 198.16H401.40M399.60 209.02H401.40M399.60 219.88H401.40M399.60 230.73H401.40M399.60 241.59H401.40M399.60 252.45H401.40M399.60 263.31H401.40M399.60 274.17H401.40M399.60 285.03H401.40M399.60 295.88H401.40M399.60 306.74H401.40M399.60 317.60H401.40M401.40 317.60v1.6M409.37 317.60v1.6M417.34 317.60v1.6M425.31 317.60v1.6M433.28 317.60v1.6M441.25 317.60v1.6M449.22 317.60v1.6M457.19 317.60v1.6M465.16 317.60v1.6M473.13 317.60v1.6M481.10 317.60v1.6M489.07 317.60v1.6M497.04 317.60v1.6M505.01 317.60v1.6M512.98 317.60v1.6M520.95 317.60v1.6M528.92 317.60v1.6M536.89 317.60v1.6M544.86 317.60v1.6" stroke="#9a9a9a" stroke-width="0.7" fill="none"/>
<path d="M401.3 204.0C401.4 205.7 401.7 211.0 402.0 214.2C402.3 217.4 402.6 220.3 403.0 223.0C403.4 225.7 403.8 227.9 404.3 230.3C404.8 232.7 405.3 234.9 405.9 237.3C406.5 239.7 407.2 242.2 408.1 244.6C409.0 247.0 410.0 249.5 411.1 251.9C412.2 254.3 413.6 256.8 414.7 259.2C415.8 261.6 416.9 264.3 417.6 266.5C418.3 268.7 418.5 269.6 418.8 272.3C419.1 275.0 419.2 278.1 419.4 282.6C419.6 287.1 419.6 295.5 419.8 299.2C420.0 302.9 419.7 303.6 420.4 304.7C421.1 305.8 422.3 305.2 424.2 305.5C426.1 305.8 429.3 305.9 431.5 306.2C433.7 306.5 435.4 306.8 437.3 307.4C439.2 308.0 441.0 309.0 443.2 309.7C445.4 310.4 447.8 311.0 450.5 311.6C453.2 312.2 456.3 312.9 459.2 313.4C462.1 313.9 464.1 314.0 468.0 314.4C471.9 314.8 477.7 315.3 482.6 315.6C487.5 315.9 492.3 316.1 497.2 316.3C502.1 316.5 504.1 316.6 511.8 316.7C519.5 316.8 538.3 316.9 543.6 317.0" fill="none" stroke="#5b80d4" stroke-width="1.2"/>
<path d="M401.2 194.9C401.6 195.2 402.9 195.7 403.8 196.7C404.7 197.7 405.7 199.3 406.7 201.0C407.7 202.7 408.6 205.0 409.6 206.9C410.6 208.8 411.5 210.7 412.5 212.7C413.5 214.7 414.4 216.9 415.4 218.9C416.4 220.9 417.4 222.8 418.4 224.9C419.4 227.0 420.4 229.3 421.3 231.4C422.2 233.5 423.0 235.4 423.8 237.6C424.6 239.8 425.5 242.2 426.4 244.6C427.3 247.0 428.2 249.5 429.3 251.9C430.4 254.3 431.5 256.8 432.7 259.2C433.9 261.6 435.3 264.1 436.6 266.5C437.9 268.9 439.2 271.4 440.6 273.8C442.0 276.2 443.2 278.6 444.8 281.0C446.4 283.4 448.6 286.0 450.5 288.2C452.4 290.4 454.4 292.3 456.3 294.1C458.2 295.9 460.2 297.5 462.2 298.9C464.1 300.3 465.8 301.3 468.0 302.4C470.2 303.5 472.9 304.6 475.3 305.7C477.7 306.8 480.2 307.8 482.6 308.7C485.0 309.6 487.5 310.2 489.9 310.9C492.3 311.5 493.5 312.0 497.2 312.6C500.9 313.2 506.9 314.0 511.8 314.5C516.7 315.0 521.1 315.4 526.4 315.8C531.7 316.2 540.7 316.6 543.6 316.7" fill="none" stroke="#c9212c" stroke-width="1.2"/>
<path d="M506.3 197H515.1" stroke="#7c9fe0" stroke-width="0.9"/>
<path d="M506.3 207.3H515.1" stroke="#c9212c" stroke-width="0.9"/>
<text x="516.00" y="198.90" font-size="5.6" text-anchor="start" fill="#222" stroke="#222" stroke-width="0.13" textLength="17.80" lengthAdjust="spacingAndGlyphs">Surface</text>
<text x="516.00" y="209.20" font-size="5.6" text-anchor="start" fill="#222" stroke="#222" stroke-width="0.13" textLength="15.90" lengthAdjust="spacingAndGlyphs">Center</text>
<text x="382.10" y="246.00" font-size="6.2" text-anchor="middle" fill="#222" stroke="#222" stroke-width="0.1" textLength="47.00" lengthAdjust="spacingAndGlyphs" transform="rotate(-90 382.10 246.00)">Temperature (°C)</text>
<text x="471.00" y="339.20" font-size="6.0" text-anchor="middle" fill="#222" stroke="#222" stroke-width="0.1" textLength="21.10" lengthAdjust="spacingAndGlyphs">Time (s)</text>
<text x="461.60" y="357.00" font-size="11.8" text-anchor="middle" fill="#111" font-family="'Liberation Serif', serif" font-weight="bold">(f)</text>
</svg>
</body></html>
